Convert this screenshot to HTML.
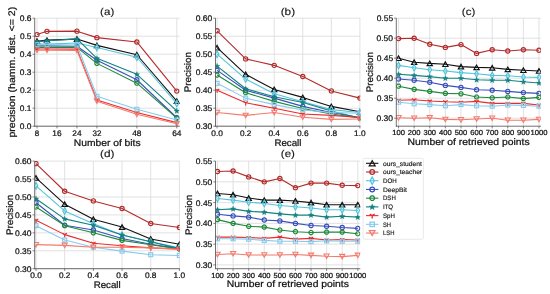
<!DOCTYPE html>
<html><head><meta charset="utf-8"><style>
html,body{margin:0;padding:0;background:#fff;}
svg{display:block;will-change:transform;filter:blur(0.3px);}
text{font-family:"Liberation Sans", sans-serif;text-rendering:geometricPrecision;}
</style></head><body>
<svg width="550" height="294" viewBox="0 0 550 294">
<rect width="550" height="294" fill="#fff"/>
<line x1="37.00" y1="18.20" x2="37.00" y2="126.20" stroke="#d9d9dc" stroke-width="0.8"/>
<line x1="56.97" y1="18.20" x2="56.97" y2="126.20" stroke="#d9d9dc" stroke-width="0.8"/>
<line x1="76.94" y1="18.20" x2="76.94" y2="126.20" stroke="#d9d9dc" stroke-width="0.8"/>
<line x1="96.91" y1="18.20" x2="96.91" y2="126.20" stroke="#d9d9dc" stroke-width="0.8"/>
<line x1="136.86" y1="18.20" x2="136.86" y2="126.20" stroke="#d9d9dc" stroke-width="0.8"/>
<line x1="176.80" y1="18.20" x2="176.80" y2="126.20" stroke="#d9d9dc" stroke-width="0.8"/>
<line x1="34.70" y1="126.20" x2="179.70" y2="126.20" stroke="#d9d9dc" stroke-width="0.8"/>
<line x1="34.70" y1="108.20" x2="179.70" y2="108.20" stroke="#d9d9dc" stroke-width="0.8"/>
<line x1="34.70" y1="90.20" x2="179.70" y2="90.20" stroke="#d9d9dc" stroke-width="0.8"/>
<line x1="34.70" y1="72.20" x2="179.70" y2="72.20" stroke="#d9d9dc" stroke-width="0.8"/>
<line x1="34.70" y1="54.20" x2="179.70" y2="54.20" stroke="#d9d9dc" stroke-width="0.8"/>
<line x1="34.70" y1="36.20" x2="179.70" y2="36.20" stroke="#d9d9dc" stroke-width="0.8"/>
<line x1="34.70" y1="18.20" x2="179.70" y2="18.20" stroke="#d9d9dc" stroke-width="0.8"/>
<clipPath id="c13"><rect x="34.7" y="18.2" width="145.0" height="108.0"/></clipPath>
<g clip-path="url(#c13)">
<polyline points="37.00,41.24 46.99,40.16 76.94,39.08 96.91,45.38 136.86,54.74 176.80,101.18" fill="none" stroke="#111111" stroke-width="1.1" stroke-linejoin="round"/>
<polygon points="37.00,38.89 34.35,43.49 39.65,43.49" fill="none" stroke="#111111" stroke-width="1.15" stroke-linejoin="miter"/>
<polygon points="46.99,37.81 44.34,42.41 49.64,42.41" fill="none" stroke="#111111" stroke-width="1.15" stroke-linejoin="miter"/>
<polygon points="76.94,36.73 74.29,41.33 79.59,41.33" fill="none" stroke="#111111" stroke-width="1.15" stroke-linejoin="miter"/>
<polygon points="96.91,43.03 94.26,47.63 99.56,47.63" fill="none" stroke="#111111" stroke-width="1.15" stroke-linejoin="miter"/>
<polygon points="136.86,52.39 134.21,56.99 139.51,56.99" fill="none" stroke="#111111" stroke-width="1.15" stroke-linejoin="miter"/>
<polygon points="176.80,98.83 174.15,103.43 179.45,103.43" fill="none" stroke="#111111" stroke-width="1.15" stroke-linejoin="miter"/>
<polyline points="37.00,34.58 46.99,31.34 76.94,31.16 96.91,37.64 136.86,41.96 176.80,91.10" fill="none" stroke="#b52a2a" stroke-width="1.1" stroke-linejoin="round"/>
<circle cx="37.00" cy="34.58" r="2.12" fill="none" stroke="#b52a2a" stroke-width="1.15"/>
<circle cx="46.99" cy="31.34" r="2.12" fill="none" stroke="#b52a2a" stroke-width="1.15"/>
<circle cx="76.94" cy="31.16" r="2.12" fill="none" stroke="#b52a2a" stroke-width="1.15"/>
<circle cx="96.91" cy="37.64" r="2.12" fill="none" stroke="#b52a2a" stroke-width="1.15"/>
<circle cx="136.86" cy="41.96" r="2.12" fill="none" stroke="#b52a2a" stroke-width="1.15"/>
<circle cx="176.80" cy="91.10" r="2.12" fill="none" stroke="#b52a2a" stroke-width="1.15"/>
<polyline points="37.00,44.12 46.99,44.12 76.94,43.04 96.91,47.54 136.86,57.26 176.80,103.52" fill="none" stroke="#52c4dd" stroke-width="1.1" stroke-linejoin="round"/>
<polygon points="37.00,40.82 38.85,44.12 37.00,47.42 35.15,44.12" fill="none" stroke="#52c4dd" stroke-width="1.15"/>
<polygon points="46.99,40.82 48.84,44.12 46.99,47.42 45.14,44.12" fill="none" stroke="#52c4dd" stroke-width="1.15"/>
<polygon points="76.94,39.74 78.79,43.04 76.94,46.34 75.09,43.04" fill="none" stroke="#52c4dd" stroke-width="1.15"/>
<polygon points="96.91,44.24 98.76,47.54 96.91,50.84 95.06,47.54" fill="none" stroke="#52c4dd" stroke-width="1.15"/>
<polygon points="136.86,53.96 138.71,57.26 136.86,60.56 135.01,57.26" fill="none" stroke="#52c4dd" stroke-width="1.15"/>
<polygon points="176.80,100.22 178.65,103.52 176.80,106.82 174.95,103.52" fill="none" stroke="#52c4dd" stroke-width="1.15"/>
<polyline points="37.00,45.92 46.99,45.92 76.94,46.28 96.91,60.32 136.86,79.76 176.80,117.74" fill="none" stroke="#3a4fbd" stroke-width="1.1" stroke-linejoin="round"/>
<circle cx="37.00" cy="45.92" r="2.12" fill="none" stroke="#3a4fbd" stroke-width="1.15"/>
<circle cx="46.99" cy="45.92" r="2.12" fill="none" stroke="#3a4fbd" stroke-width="1.15"/>
<circle cx="76.94" cy="46.28" r="2.12" fill="none" stroke="#3a4fbd" stroke-width="1.15"/>
<circle cx="96.91" cy="60.32" r="2.12" fill="none" stroke="#3a4fbd" stroke-width="1.15"/>
<circle cx="136.86" cy="79.76" r="2.12" fill="none" stroke="#3a4fbd" stroke-width="1.15"/>
<circle cx="176.80" cy="117.74" r="2.12" fill="none" stroke="#3a4fbd" stroke-width="1.15"/>
<polyline points="37.00,47.36 46.99,47.36 76.94,47.36 96.91,63.38 136.86,83.18 176.80,118.10" fill="none" stroke="#1f8a3a" stroke-width="1.1" stroke-linejoin="round"/>
<polygon points="39.03,48.20 37.84,49.39 36.16,49.39 34.97,48.20 34.97,46.52 36.16,45.33 37.84,45.33 39.03,46.52" fill="none" stroke="#1f8a3a" stroke-width="1.15"/>
<polygon points="49.02,48.20 47.83,49.39 46.14,49.39 44.95,48.20 44.95,46.52 46.14,45.33 47.83,45.33 49.02,46.52" fill="none" stroke="#1f8a3a" stroke-width="1.15"/>
<polygon points="78.98,48.20 77.78,49.39 76.10,49.39 74.91,48.20 74.91,46.52 76.10,45.33 77.78,45.33 78.98,46.52" fill="none" stroke="#1f8a3a" stroke-width="1.15"/>
<polygon points="98.95,64.22 97.76,65.41 96.07,65.41 94.88,64.22 94.88,62.54 96.07,61.35 97.76,61.35 98.95,62.54" fill="none" stroke="#1f8a3a" stroke-width="1.15"/>
<polygon points="138.89,84.02 137.70,85.21 136.02,85.21 134.82,84.02 134.82,82.34 136.02,81.15 137.70,81.15 138.89,82.34" fill="none" stroke="#1f8a3a" stroke-width="1.15"/>
<polygon points="178.83,118.94 177.64,120.13 175.96,120.13 174.77,118.94 174.77,117.26 175.96,116.07 177.64,116.07 178.83,117.26" fill="none" stroke="#1f8a3a" stroke-width="1.15"/>
<polyline points="37.00,41.96 46.99,40.70 76.94,38.90 96.91,58.34 136.86,74.36 176.80,110.90" fill="none" stroke="#128282" stroke-width="1.1" stroke-linejoin="round"/>
<polygon points="37.00,39.26 37.70,41.14 39.71,41.23 38.14,42.48 38.68,44.42 37.00,43.31 35.32,44.42 35.86,42.48 34.29,41.23 36.30,41.14" fill="#128282" stroke="#128282" stroke-width="0.4" stroke-linejoin="round"/>
<polygon points="46.99,38.00 47.69,39.88 49.70,39.97 48.12,41.22 48.66,43.16 46.99,42.05 45.31,43.16 45.85,41.22 44.28,39.97 46.28,39.88" fill="#128282" stroke="#128282" stroke-width="0.4" stroke-linejoin="round"/>
<polygon points="76.94,36.20 77.65,38.08 79.65,38.17 78.08,39.42 78.62,41.36 76.94,40.25 75.27,41.36 75.80,39.42 74.23,38.17 76.24,38.08" fill="#128282" stroke="#128282" stroke-width="0.4" stroke-linejoin="round"/>
<polygon points="96.91,55.64 97.62,57.52 99.62,57.61 98.05,58.86 98.59,60.80 96.91,59.69 95.24,60.80 95.78,58.86 94.20,57.61 96.21,57.52" fill="#128282" stroke="#128282" stroke-width="0.4" stroke-linejoin="round"/>
<polygon points="136.86,71.66 137.56,73.54 139.57,73.63 138.00,74.88 138.53,76.82 136.86,75.71 135.18,76.82 135.72,74.88 134.15,73.63 136.15,73.54" fill="#128282" stroke="#128282" stroke-width="0.4" stroke-linejoin="round"/>
<polygon points="176.80,108.20 177.50,110.08 179.51,110.17 177.94,111.42 178.48,113.36 176.80,112.25 175.12,113.36 175.66,111.42 174.09,110.17 176.10,110.08" fill="#128282" stroke="#128282" stroke-width="0.4" stroke-linejoin="round"/>
<polyline points="37.00,48.98 46.99,48.98 76.94,49.16 96.91,99.92 136.86,112.52 176.80,122.60" fill="none" stroke="#ec2a2a" stroke-width="1.1" stroke-linejoin="round"/>
<path d="M37.00,48.98L37.00,51.58M37.00,48.98L34.75,47.68M37.00,48.98L39.25,47.68" fill="none" stroke="#ec2a2a" stroke-width="1.2"/>
<path d="M46.99,48.98L46.99,51.58M46.99,48.98L44.73,47.68M46.99,48.98L49.24,47.68" fill="none" stroke="#ec2a2a" stroke-width="1.2"/>
<path d="M76.94,49.16L76.94,51.76M76.94,49.16L74.69,47.86M76.94,49.16L79.19,47.86" fill="none" stroke="#ec2a2a" stroke-width="1.2"/>
<path d="M96.91,99.92L96.91,102.52M96.91,99.92L94.66,98.62M96.91,99.92L99.17,98.62" fill="none" stroke="#ec2a2a" stroke-width="1.2"/>
<path d="M136.86,112.52L136.86,115.12M136.86,112.52L134.61,111.22M136.86,112.52L139.11,111.22" fill="none" stroke="#ec2a2a" stroke-width="1.2"/>
<path d="M176.80,122.60L176.80,125.20M176.80,122.60L174.55,121.30M176.80,122.60L179.05,121.30" fill="none" stroke="#ec2a2a" stroke-width="1.2"/>
<polyline points="37.00,44.66 46.99,44.66 76.94,45.02 96.91,96.32 136.86,109.28 176.80,120.08" fill="none" stroke="#86cbec" stroke-width="1.1" stroke-linejoin="round"/>
<rect x="35.00" y="42.66" width="4.00" height="4.00" fill="none" stroke="#86cbec" stroke-width="1.15"/>
<rect x="44.99" y="42.66" width="4.00" height="4.00" fill="none" stroke="#86cbec" stroke-width="1.15"/>
<rect x="74.94" y="43.02" width="4.00" height="4.00" fill="none" stroke="#86cbec" stroke-width="1.15"/>
<rect x="94.91" y="94.32" width="4.00" height="4.00" fill="none" stroke="#86cbec" stroke-width="1.15"/>
<rect x="134.86" y="107.28" width="4.00" height="4.00" fill="none" stroke="#86cbec" stroke-width="1.15"/>
<rect x="174.80" y="118.08" width="4.00" height="4.00" fill="none" stroke="#86cbec" stroke-width="1.15"/>
<polyline points="37.00,50.24 46.99,50.24 76.94,50.42 96.91,101.18 136.86,114.32 176.80,123.68" fill="none" stroke="#f47a6c" stroke-width="1.1" stroke-linejoin="round"/>
<polygon points="37.00,52.59 34.40,47.99 39.60,47.99" fill="none" stroke="#f47a6c" stroke-width="1.05" stroke-linejoin="miter"/>
<polygon points="46.99,52.59 44.39,47.99 49.59,47.99" fill="none" stroke="#f47a6c" stroke-width="1.05" stroke-linejoin="miter"/>
<polygon points="76.94,52.77 74.34,48.17 79.54,48.17" fill="none" stroke="#f47a6c" stroke-width="1.05" stroke-linejoin="miter"/>
<polygon points="96.91,103.53 94.31,98.93 99.51,98.93" fill="none" stroke="#f47a6c" stroke-width="1.05" stroke-linejoin="miter"/>
<polygon points="136.86,116.67 134.26,112.07 139.46,112.07" fill="none" stroke="#f47a6c" stroke-width="1.05" stroke-linejoin="miter"/>
<polygon points="176.80,126.03 174.20,121.43 179.40,121.43" fill="none" stroke="#f47a6c" stroke-width="1.05" stroke-linejoin="miter"/>
</g>
<line x1="34.70" y1="18.20" x2="34.70" y2="126.60" stroke="#4d4d4d" stroke-width="0.8"/>
<line x1="34.30" y1="126.20" x2="179.70" y2="126.20" stroke="#4d4d4d" stroke-width="0.8"/>
<line x1="37.00" y1="126.20" x2="37.00" y2="128.40" stroke="#4d4d4d" stroke-width="0.7"/>
<text x="37.00" y="135.85" font-size="8.06" text-anchor="middle" textLength="4.44" lengthAdjust="spacingAndGlyphs" fill="#141414" stroke="#141414" stroke-width="0.24">8</text>
<line x1="56.97" y1="126.20" x2="56.97" y2="128.40" stroke="#4d4d4d" stroke-width="0.7"/>
<text x="56.97" y="135.85" font-size="8.06" text-anchor="middle" textLength="9.25" lengthAdjust="spacingAndGlyphs" fill="#141414" stroke="#141414" stroke-width="0.24">16</text>
<line x1="76.94" y1="126.20" x2="76.94" y2="128.40" stroke="#4d4d4d" stroke-width="0.7"/>
<text x="76.94" y="135.85" font-size="8.06" text-anchor="middle" textLength="9.23" lengthAdjust="spacingAndGlyphs" fill="#141414" stroke="#141414" stroke-width="0.24">24</text>
<line x1="96.91" y1="126.20" x2="96.91" y2="128.40" stroke="#4d4d4d" stroke-width="0.7"/>
<text x="96.91" y="135.85" font-size="8.06" text-anchor="middle" textLength="8.93" lengthAdjust="spacingAndGlyphs" fill="#141414" stroke="#141414" stroke-width="0.24">32</text>
<line x1="136.86" y1="126.20" x2="136.86" y2="128.40" stroke="#4d4d4d" stroke-width="0.7"/>
<text x="136.86" y="135.85" font-size="8.06" text-anchor="middle" textLength="9.21" lengthAdjust="spacingAndGlyphs" fill="#141414" stroke="#141414" stroke-width="0.24">48</text>
<line x1="176.80" y1="126.20" x2="176.80" y2="128.40" stroke="#4d4d4d" stroke-width="0.7"/>
<text x="176.80" y="135.85" font-size="8.06" text-anchor="middle" textLength="9.27" lengthAdjust="spacingAndGlyphs" fill="#141414" stroke="#141414" stroke-width="0.24">64</text>
<line x1="32.50" y1="126.20" x2="34.70" y2="126.20" stroke="#4d4d4d" stroke-width="0.7"/>
<text x="31.50" y="129.30" font-size="8.17" text-anchor="end" textLength="11.74" lengthAdjust="spacingAndGlyphs" fill="#141414" stroke="#141414" stroke-width="0.24">0.0</text>
<line x1="32.50" y1="108.20" x2="34.70" y2="108.20" stroke="#4d4d4d" stroke-width="0.7"/>
<text x="31.50" y="111.30" font-size="8.17" text-anchor="end" textLength="11.62" lengthAdjust="spacingAndGlyphs" fill="#141414" stroke="#141414" stroke-width="0.24">0.1</text>
<line x1="32.50" y1="90.20" x2="34.70" y2="90.20" stroke="#4d4d4d" stroke-width="0.7"/>
<text x="31.50" y="93.30" font-size="8.17" text-anchor="end" textLength="11.57" lengthAdjust="spacingAndGlyphs" fill="#141414" stroke="#141414" stroke-width="0.24">0.2</text>
<line x1="32.50" y1="72.20" x2="34.70" y2="72.20" stroke="#4d4d4d" stroke-width="0.7"/>
<text x="31.50" y="75.30" font-size="8.17" text-anchor="end" textLength="11.67" lengthAdjust="spacingAndGlyphs" fill="#141414" stroke="#141414" stroke-width="0.24">0.3</text>
<line x1="32.50" y1="54.20" x2="34.70" y2="54.20" stroke="#4d4d4d" stroke-width="0.7"/>
<text x="31.50" y="57.30" font-size="8.17" text-anchor="end" textLength="11.74" lengthAdjust="spacingAndGlyphs" fill="#141414" stroke="#141414" stroke-width="0.24">0.4</text>
<line x1="32.50" y1="36.20" x2="34.70" y2="36.20" stroke="#4d4d4d" stroke-width="0.7"/>
<text x="31.50" y="39.30" font-size="8.17" text-anchor="end" textLength="11.60" lengthAdjust="spacingAndGlyphs" fill="#141414" stroke="#141414" stroke-width="0.24">0.5</text>
<line x1="32.50" y1="18.20" x2="34.70" y2="18.20" stroke="#4d4d4d" stroke-width="0.7"/>
<text x="31.50" y="21.30" font-size="8.17" text-anchor="end" textLength="11.81" lengthAdjust="spacingAndGlyphs" fill="#141414" stroke="#141414" stroke-width="0.24">0.6</text>
<text x="107.20" y="14.50" font-size="9.98" text-anchor="middle" textLength="14.13" lengthAdjust="spacingAndGlyphs" fill="#141414" stroke="#141414" stroke-width="0.12">(a)</text>
<text x="107.20" y="145.50" font-size="9.54" text-anchor="middle" textLength="66.87" lengthAdjust="spacingAndGlyphs" fill="#141414" stroke="#141414" stroke-width="0.24">Number of bits</text>
<text x="15.40" y="72.20" font-size="9.54" text-anchor="middle" textLength="130.72" lengthAdjust="spacingAndGlyphs" transform="rotate(-90 15.40 72.20)" fill="#141414" stroke="#141414" stroke-width="0.24">precision (hamm. dist. &lt;= 2)</text>
<line x1="217.10" y1="18.20" x2="217.10" y2="126.20" stroke="#d9d9dc" stroke-width="0.8"/>
<line x1="245.66" y1="18.20" x2="245.66" y2="126.20" stroke="#d9d9dc" stroke-width="0.8"/>
<line x1="274.22" y1="18.20" x2="274.22" y2="126.20" stroke="#d9d9dc" stroke-width="0.8"/>
<line x1="302.78" y1="18.20" x2="302.78" y2="126.20" stroke="#d9d9dc" stroke-width="0.8"/>
<line x1="331.34" y1="18.20" x2="331.34" y2="126.20" stroke="#d9d9dc" stroke-width="0.8"/>
<line x1="359.90" y1="18.20" x2="359.90" y2="126.20" stroke="#d9d9dc" stroke-width="0.8"/>
<line x1="215.50" y1="126.20" x2="360.30" y2="126.20" stroke="#d9d9dc" stroke-width="0.8"/>
<line x1="215.50" y1="108.20" x2="360.30" y2="108.20" stroke="#d9d9dc" stroke-width="0.8"/>
<line x1="215.50" y1="90.20" x2="360.30" y2="90.20" stroke="#d9d9dc" stroke-width="0.8"/>
<line x1="215.50" y1="72.20" x2="360.30" y2="72.20" stroke="#d9d9dc" stroke-width="0.8"/>
<line x1="215.50" y1="54.20" x2="360.30" y2="54.20" stroke="#d9d9dc" stroke-width="0.8"/>
<line x1="215.50" y1="36.20" x2="360.30" y2="36.20" stroke="#d9d9dc" stroke-width="0.8"/>
<line x1="215.50" y1="18.20" x2="360.30" y2="18.20" stroke="#d9d9dc" stroke-width="0.8"/>
<clipPath id="c123"><rect x="215.5" y="18.2" width="144.8" height="108.0"/></clipPath>
<g clip-path="url(#c123)">
<polyline points="217.10,47.72 245.66,74.36 274.22,89.48 302.78,97.40 331.34,106.40 359.90,111.80" fill="none" stroke="#111111" stroke-width="1.1" stroke-linejoin="round"/>
<polygon points="217.10,45.37 214.45,49.97 219.75,49.97" fill="none" stroke="#111111" stroke-width="1.15" stroke-linejoin="miter"/>
<polygon points="245.66,72.01 243.01,76.61 248.31,76.61" fill="none" stroke="#111111" stroke-width="1.15" stroke-linejoin="miter"/>
<polygon points="274.22,87.13 271.57,91.73 276.87,91.73" fill="none" stroke="#111111" stroke-width="1.15" stroke-linejoin="miter"/>
<polygon points="302.78,95.05 300.13,99.65 305.43,99.65" fill="none" stroke="#111111" stroke-width="1.15" stroke-linejoin="miter"/>
<polygon points="331.34,104.05 328.69,108.65 333.99,108.65" fill="none" stroke="#111111" stroke-width="1.15" stroke-linejoin="miter"/>
<polygon points="359.90,109.45 357.25,114.05 362.55,114.05" fill="none" stroke="#111111" stroke-width="1.15" stroke-linejoin="miter"/>
<polyline points="217.10,30.80 245.66,58.88 274.22,65.36 302.78,76.52 331.34,90.92 359.90,98.12" fill="none" stroke="#b52a2a" stroke-width="1.1" stroke-linejoin="round"/>
<circle cx="217.10" cy="30.80" r="2.12" fill="none" stroke="#b52a2a" stroke-width="1.15"/>
<circle cx="245.66" cy="58.88" r="2.12" fill="none" stroke="#b52a2a" stroke-width="1.15"/>
<circle cx="274.22" cy="65.36" r="2.12" fill="none" stroke="#b52a2a" stroke-width="1.15"/>
<circle cx="302.78" cy="76.52" r="2.12" fill="none" stroke="#b52a2a" stroke-width="1.15"/>
<circle cx="331.34" cy="90.92" r="2.12" fill="none" stroke="#b52a2a" stroke-width="1.15"/>
<circle cx="359.90" cy="98.12" r="2.12" fill="none" stroke="#b52a2a" stroke-width="1.15"/>
<polyline points="217.10,54.20 245.66,79.04 274.22,93.80 302.78,101.72 331.34,109.64 359.90,112.52" fill="none" stroke="#52c4dd" stroke-width="1.1" stroke-linejoin="round"/>
<polygon points="217.10,50.90 218.95,54.20 217.10,57.50 215.25,54.20" fill="none" stroke="#52c4dd" stroke-width="1.15"/>
<polygon points="245.66,75.74 247.51,79.04 245.66,82.34 243.81,79.04" fill="none" stroke="#52c4dd" stroke-width="1.15"/>
<polygon points="274.22,90.50 276.07,93.80 274.22,97.10 272.37,93.80" fill="none" stroke="#52c4dd" stroke-width="1.15"/>
<polygon points="302.78,98.42 304.63,101.72 302.78,105.02 300.93,101.72" fill="none" stroke="#52c4dd" stroke-width="1.15"/>
<polygon points="331.34,106.34 333.19,109.64 331.34,112.94 329.49,109.64" fill="none" stroke="#52c4dd" stroke-width="1.15"/>
<polygon points="359.90,109.22 361.75,112.52 359.90,115.82 358.05,112.52" fill="none" stroke="#52c4dd" stroke-width="1.15"/>
<polyline points="217.10,70.40 245.66,90.20 274.22,98.12 302.78,106.40 331.34,112.52 359.90,117.56" fill="none" stroke="#3a4fbd" stroke-width="1.1" stroke-linejoin="round"/>
<circle cx="217.10" cy="70.40" r="2.12" fill="none" stroke="#3a4fbd" stroke-width="1.15"/>
<circle cx="245.66" cy="90.20" r="2.12" fill="none" stroke="#3a4fbd" stroke-width="1.15"/>
<circle cx="274.22" cy="98.12" r="2.12" fill="none" stroke="#3a4fbd" stroke-width="1.15"/>
<circle cx="302.78" cy="106.40" r="2.12" fill="none" stroke="#3a4fbd" stroke-width="1.15"/>
<circle cx="331.34" cy="112.52" r="2.12" fill="none" stroke="#3a4fbd" stroke-width="1.15"/>
<circle cx="359.90" cy="117.56" r="2.12" fill="none" stroke="#3a4fbd" stroke-width="1.15"/>
<polyline points="217.10,75.08 245.66,92.72 274.22,101.36 302.78,108.56 331.34,113.96 359.90,117.92" fill="none" stroke="#1f8a3a" stroke-width="1.1" stroke-linejoin="round"/>
<polygon points="219.13,75.92 217.94,77.11 216.26,77.11 215.07,75.92 215.07,74.24 216.26,73.05 217.94,73.05 219.13,74.24" fill="none" stroke="#1f8a3a" stroke-width="1.15"/>
<polygon points="247.69,93.56 246.50,94.75 244.82,94.75 243.63,93.56 243.63,91.88 244.82,90.69 246.50,90.69 247.69,91.88" fill="none" stroke="#1f8a3a" stroke-width="1.15"/>
<polygon points="276.25,102.20 275.06,103.39 273.38,103.39 272.19,102.20 272.19,100.52 273.38,99.33 275.06,99.33 276.25,100.52" fill="none" stroke="#1f8a3a" stroke-width="1.15"/>
<polygon points="304.81,109.40 303.62,110.59 301.94,110.59 300.75,109.40 300.75,107.72 301.94,106.53 303.62,106.53 304.81,107.72" fill="none" stroke="#1f8a3a" stroke-width="1.15"/>
<polygon points="333.37,114.80 332.18,115.99 330.50,115.99 329.31,114.80 329.31,113.12 330.50,111.93 332.18,111.93 333.37,113.12" fill="none" stroke="#1f8a3a" stroke-width="1.15"/>
<polygon points="361.93,118.76 360.74,119.95 359.06,119.95 357.87,118.76 357.87,117.08 359.06,115.89 360.74,115.89 361.93,117.08" fill="none" stroke="#1f8a3a" stroke-width="1.15"/>
<polyline points="217.10,66.08 245.66,88.76 274.22,96.68 302.78,102.44 331.34,111.08 359.90,118.28" fill="none" stroke="#128282" stroke-width="1.1" stroke-linejoin="round"/>
<polygon points="217.10,63.38 217.80,65.26 219.81,65.35 218.24,66.60 218.78,68.54 217.10,67.43 215.42,68.54 215.96,66.60 214.39,65.35 216.40,65.26" fill="#128282" stroke="#128282" stroke-width="0.4" stroke-linejoin="round"/>
<polygon points="245.66,86.06 246.36,87.94 248.37,88.03 246.80,89.28 247.34,91.22 245.66,90.11 243.98,91.22 244.52,89.28 242.95,88.03 244.96,87.94" fill="#128282" stroke="#128282" stroke-width="0.4" stroke-linejoin="round"/>
<polygon points="274.22,93.98 274.92,95.86 276.93,95.95 275.36,97.20 275.90,99.14 274.22,98.03 272.54,99.14 273.08,97.20 271.51,95.95 273.52,95.86" fill="#128282" stroke="#128282" stroke-width="0.4" stroke-linejoin="round"/>
<polygon points="302.78,99.74 303.48,101.62 305.49,101.71 303.92,102.96 304.46,104.90 302.78,103.79 301.10,104.90 301.64,102.96 300.07,101.71 302.08,101.62" fill="#128282" stroke="#128282" stroke-width="0.4" stroke-linejoin="round"/>
<polygon points="331.34,108.38 332.04,110.26 334.05,110.35 332.48,111.60 333.02,113.54 331.34,112.43 329.66,113.54 330.20,111.60 328.63,110.35 330.64,110.26" fill="#128282" stroke="#128282" stroke-width="0.4" stroke-linejoin="round"/>
<polygon points="359.90,115.58 360.60,117.46 362.61,117.55 361.04,118.80 361.58,120.74 359.90,119.63 358.22,120.74 358.76,118.80 357.19,117.55 359.20,117.46" fill="#128282" stroke="#128282" stroke-width="0.4" stroke-linejoin="round"/>
<polyline points="217.10,90.20 245.66,102.80 274.22,108.20 302.78,113.96 331.34,115.40 359.90,117.56" fill="none" stroke="#ec2a2a" stroke-width="1.1" stroke-linejoin="round"/>
<path d="M217.10,90.20L217.10,92.80M217.10,90.20L214.85,88.90M217.10,90.20L219.35,88.90" fill="none" stroke="#ec2a2a" stroke-width="1.2"/>
<path d="M245.66,102.80L245.66,105.40M245.66,102.80L243.41,101.50M245.66,102.80L247.91,101.50" fill="none" stroke="#ec2a2a" stroke-width="1.2"/>
<path d="M274.22,108.20L274.22,110.80M274.22,108.20L271.97,106.90M274.22,108.20L276.47,106.90" fill="none" stroke="#ec2a2a" stroke-width="1.2"/>
<path d="M302.78,113.96L302.78,116.56M302.78,113.96L300.53,112.66M302.78,113.96L305.03,112.66" fill="none" stroke="#ec2a2a" stroke-width="1.2"/>
<path d="M331.34,115.40L331.34,118.00M331.34,115.40L329.09,114.10M331.34,115.40L333.59,114.10" fill="none" stroke="#ec2a2a" stroke-width="1.2"/>
<path d="M359.90,117.56L359.90,120.16M359.90,117.56L357.65,116.26M359.90,117.56L362.15,116.26" fill="none" stroke="#ec2a2a" stroke-width="1.2"/>
<polyline points="217.10,83.36 245.66,98.12 274.22,104.60 302.78,110.00 331.34,112.52 359.90,113.24" fill="none" stroke="#86cbec" stroke-width="1.1" stroke-linejoin="round"/>
<rect x="215.10" y="81.36" width="4.00" height="4.00" fill="none" stroke="#86cbec" stroke-width="1.15"/>
<rect x="243.66" y="96.12" width="4.00" height="4.00" fill="none" stroke="#86cbec" stroke-width="1.15"/>
<rect x="272.22" y="102.60" width="4.00" height="4.00" fill="none" stroke="#86cbec" stroke-width="1.15"/>
<rect x="300.78" y="108.00" width="4.00" height="4.00" fill="none" stroke="#86cbec" stroke-width="1.15"/>
<rect x="329.34" y="110.52" width="4.00" height="4.00" fill="none" stroke="#86cbec" stroke-width="1.15"/>
<rect x="357.90" y="111.24" width="4.00" height="4.00" fill="none" stroke="#86cbec" stroke-width="1.15"/>
<polyline points="217.10,112.52 245.66,115.40 274.22,112.52 302.78,117.20 331.34,119.36 359.90,119.00" fill="none" stroke="#f47a6c" stroke-width="1.1" stroke-linejoin="round"/>
<polygon points="217.10,114.87 214.50,110.27 219.70,110.27" fill="none" stroke="#f47a6c" stroke-width="1.05" stroke-linejoin="miter"/>
<polygon points="245.66,117.75 243.06,113.15 248.26,113.15" fill="none" stroke="#f47a6c" stroke-width="1.05" stroke-linejoin="miter"/>
<polygon points="274.22,114.87 271.62,110.27 276.82,110.27" fill="none" stroke="#f47a6c" stroke-width="1.05" stroke-linejoin="miter"/>
<polygon points="302.78,119.55 300.18,114.95 305.38,114.95" fill="none" stroke="#f47a6c" stroke-width="1.05" stroke-linejoin="miter"/>
<polygon points="331.34,121.71 328.74,117.11 333.94,117.11" fill="none" stroke="#f47a6c" stroke-width="1.05" stroke-linejoin="miter"/>
<polygon points="359.90,121.35 357.30,116.75 362.50,116.75" fill="none" stroke="#f47a6c" stroke-width="1.05" stroke-linejoin="miter"/>
</g>
<line x1="215.50" y1="18.20" x2="215.50" y2="126.60" stroke="#4d4d4d" stroke-width="0.8"/>
<line x1="215.10" y1="126.20" x2="360.30" y2="126.20" stroke="#4d4d4d" stroke-width="0.8"/>
<line x1="217.10" y1="126.20" x2="217.10" y2="128.40" stroke="#4d4d4d" stroke-width="0.7"/>
<text x="217.10" y="135.85" font-size="8.06" text-anchor="middle" textLength="11.59" lengthAdjust="spacingAndGlyphs" fill="#141414" stroke="#141414" stroke-width="0.24">0.0</text>
<line x1="245.66" y1="126.20" x2="245.66" y2="128.40" stroke="#4d4d4d" stroke-width="0.7"/>
<text x="245.66" y="135.85" font-size="8.06" text-anchor="middle" textLength="11.42" lengthAdjust="spacingAndGlyphs" fill="#141414" stroke="#141414" stroke-width="0.24">0.2</text>
<line x1="274.22" y1="126.20" x2="274.22" y2="128.40" stroke="#4d4d4d" stroke-width="0.7"/>
<text x="274.22" y="135.85" font-size="8.06" text-anchor="middle" textLength="11.58" lengthAdjust="spacingAndGlyphs" fill="#141414" stroke="#141414" stroke-width="0.24">0.4</text>
<line x1="302.78" y1="126.20" x2="302.78" y2="128.40" stroke="#4d4d4d" stroke-width="0.7"/>
<text x="302.78" y="135.85" font-size="8.06" text-anchor="middle" textLength="11.66" lengthAdjust="spacingAndGlyphs" fill="#141414" stroke="#141414" stroke-width="0.24">0.6</text>
<line x1="331.34" y1="126.20" x2="331.34" y2="128.40" stroke="#4d4d4d" stroke-width="0.7"/>
<text x="331.34" y="135.85" font-size="8.06" text-anchor="middle" textLength="11.61" lengthAdjust="spacingAndGlyphs" fill="#141414" stroke="#141414" stroke-width="0.24">0.8</text>
<line x1="359.90" y1="126.20" x2="359.90" y2="128.40" stroke="#4d4d4d" stroke-width="0.7"/>
<text x="359.90" y="135.85" font-size="8.06" text-anchor="middle" textLength="11.56" lengthAdjust="spacingAndGlyphs" fill="#141414" stroke="#141414" stroke-width="0.24">1.0</text>
<line x1="213.30" y1="126.20" x2="215.50" y2="126.20" stroke="#4d4d4d" stroke-width="0.7"/>
<text x="212.30" y="129.30" font-size="8.17" text-anchor="end" textLength="16.58" lengthAdjust="spacingAndGlyphs" fill="#141414" stroke="#141414" stroke-width="0.24">0.30</text>
<line x1="213.30" y1="108.20" x2="215.50" y2="108.20" stroke="#4d4d4d" stroke-width="0.7"/>
<text x="212.30" y="111.30" font-size="8.17" text-anchor="end" textLength="16.44" lengthAdjust="spacingAndGlyphs" fill="#141414" stroke="#141414" stroke-width="0.24">0.35</text>
<line x1="213.30" y1="90.20" x2="215.50" y2="90.20" stroke="#4d4d4d" stroke-width="0.7"/>
<text x="212.30" y="93.30" font-size="8.17" text-anchor="end" textLength="16.58" lengthAdjust="spacingAndGlyphs" fill="#141414" stroke="#141414" stroke-width="0.24">0.40</text>
<line x1="213.30" y1="72.20" x2="215.50" y2="72.20" stroke="#4d4d4d" stroke-width="0.7"/>
<text x="212.30" y="75.30" font-size="8.17" text-anchor="end" textLength="16.44" lengthAdjust="spacingAndGlyphs" fill="#141414" stroke="#141414" stroke-width="0.24">0.45</text>
<line x1="213.30" y1="54.20" x2="215.50" y2="54.20" stroke="#4d4d4d" stroke-width="0.7"/>
<text x="212.30" y="57.30" font-size="8.17" text-anchor="end" textLength="16.58" lengthAdjust="spacingAndGlyphs" fill="#141414" stroke="#141414" stroke-width="0.24">0.50</text>
<line x1="213.30" y1="36.20" x2="215.50" y2="36.20" stroke="#4d4d4d" stroke-width="0.7"/>
<text x="212.30" y="39.30" font-size="8.17" text-anchor="end" textLength="16.44" lengthAdjust="spacingAndGlyphs" fill="#141414" stroke="#141414" stroke-width="0.24">0.55</text>
<line x1="213.30" y1="18.20" x2="215.50" y2="18.20" stroke="#4d4d4d" stroke-width="0.7"/>
<text x="212.30" y="21.30" font-size="8.17" text-anchor="end" textLength="16.58" lengthAdjust="spacingAndGlyphs" fill="#141414" stroke="#141414" stroke-width="0.24">0.60</text>
<text x="287.90" y="14.50" font-size="9.98" text-anchor="middle" textLength="14.39" lengthAdjust="spacingAndGlyphs" fill="#141414" stroke="#141414" stroke-width="0.12">(b)</text>
<text x="287.90" y="145.50" font-size="9.54" text-anchor="middle" textLength="26.97" lengthAdjust="spacingAndGlyphs" fill="#141414" stroke="#141414" stroke-width="0.24">Recall</text>
<text x="191.40" y="72.20" font-size="9.54" text-anchor="middle" textLength="40.31" lengthAdjust="spacingAndGlyphs" transform="rotate(-90 191.40 72.20)" fill="#141414" stroke="#141414" stroke-width="0.24">Precision</text>
<line x1="398.55" y1="18.20" x2="398.55" y2="126.20" stroke="#d9d9dc" stroke-width="0.8"/>
<line x1="414.16" y1="18.20" x2="414.16" y2="126.20" stroke="#d9d9dc" stroke-width="0.8"/>
<line x1="429.76" y1="18.20" x2="429.76" y2="126.20" stroke="#d9d9dc" stroke-width="0.8"/>
<line x1="445.37" y1="18.20" x2="445.37" y2="126.20" stroke="#d9d9dc" stroke-width="0.8"/>
<line x1="460.97" y1="18.20" x2="460.97" y2="126.20" stroke="#d9d9dc" stroke-width="0.8"/>
<line x1="476.58" y1="18.20" x2="476.58" y2="126.20" stroke="#d9d9dc" stroke-width="0.8"/>
<line x1="492.18" y1="18.20" x2="492.18" y2="126.20" stroke="#d9d9dc" stroke-width="0.8"/>
<line x1="507.79" y1="18.20" x2="507.79" y2="126.20" stroke="#d9d9dc" stroke-width="0.8"/>
<line x1="523.39" y1="18.20" x2="523.39" y2="126.20" stroke="#d9d9dc" stroke-width="0.8"/>
<line x1="539.00" y1="18.20" x2="539.00" y2="126.20" stroke="#d9d9dc" stroke-width="0.8"/>
<line x1="396.30" y1="118.20" x2="540.90" y2="118.20" stroke="#d9d9dc" stroke-width="0.8"/>
<line x1="396.30" y1="98.20" x2="540.90" y2="98.20" stroke="#d9d9dc" stroke-width="0.8"/>
<line x1="396.30" y1="78.20" x2="540.90" y2="78.20" stroke="#d9d9dc" stroke-width="0.8"/>
<line x1="396.30" y1="58.20" x2="540.90" y2="58.20" stroke="#d9d9dc" stroke-width="0.8"/>
<line x1="396.30" y1="38.20" x2="540.90" y2="38.20" stroke="#d9d9dc" stroke-width="0.8"/>
<line x1="396.30" y1="18.20" x2="540.90" y2="18.20" stroke="#d9d9dc" stroke-width="0.8"/>
<clipPath id="c236"><rect x="396.3" y="18.2" width="144.59999999999997" height="108.0"/></clipPath>
<g clip-path="url(#c236)">
<polyline points="398.55,58.20 414.16,62.20 429.76,63.40 445.37,64.20 460.97,66.60 476.58,67.40 492.18,67.80 507.79,69.40 523.39,70.20 539.00,71.00" fill="none" stroke="#111111" stroke-width="1.1" stroke-linejoin="round"/>
<polygon points="398.55,55.85 395.90,60.45 401.20,60.45" fill="none" stroke="#111111" stroke-width="1.15" stroke-linejoin="miter"/>
<polygon points="414.16,59.85 411.51,64.45 416.81,64.45" fill="none" stroke="#111111" stroke-width="1.15" stroke-linejoin="miter"/>
<polygon points="429.76,61.05 427.11,65.65 432.41,65.65" fill="none" stroke="#111111" stroke-width="1.15" stroke-linejoin="miter"/>
<polygon points="445.37,61.85 442.72,66.45 448.02,66.45" fill="none" stroke="#111111" stroke-width="1.15" stroke-linejoin="miter"/>
<polygon points="460.97,64.25 458.32,68.85 463.62,68.85" fill="none" stroke="#111111" stroke-width="1.15" stroke-linejoin="miter"/>
<polygon points="476.58,65.05 473.93,69.65 479.23,69.65" fill="none" stroke="#111111" stroke-width="1.15" stroke-linejoin="miter"/>
<polygon points="492.18,65.45 489.53,70.05 494.83,70.05" fill="none" stroke="#111111" stroke-width="1.15" stroke-linejoin="miter"/>
<polygon points="507.79,67.05 505.14,71.65 510.44,71.65" fill="none" stroke="#111111" stroke-width="1.15" stroke-linejoin="miter"/>
<polygon points="523.39,67.85 520.74,72.45 526.04,72.45" fill="none" stroke="#111111" stroke-width="1.15" stroke-linejoin="miter"/>
<polygon points="539.00,68.65 536.35,73.25 541.65,73.25" fill="none" stroke="#111111" stroke-width="1.15" stroke-linejoin="miter"/>
<polyline points="398.55,38.60 414.16,38.20 429.76,44.20 445.37,47.40 460.97,44.60 476.58,53.40 492.18,49.80 507.79,51.00 523.39,49.80 539.00,50.20" fill="none" stroke="#b52a2a" stroke-width="1.1" stroke-linejoin="round"/>
<circle cx="398.55" cy="38.60" r="2.12" fill="none" stroke="#b52a2a" stroke-width="1.15"/>
<circle cx="414.16" cy="38.20" r="2.12" fill="none" stroke="#b52a2a" stroke-width="1.15"/>
<circle cx="429.76" cy="44.20" r="2.12" fill="none" stroke="#b52a2a" stroke-width="1.15"/>
<circle cx="445.37" cy="47.40" r="2.12" fill="none" stroke="#b52a2a" stroke-width="1.15"/>
<circle cx="460.97" cy="44.60" r="2.12" fill="none" stroke="#b52a2a" stroke-width="1.15"/>
<circle cx="476.58" cy="53.40" r="2.12" fill="none" stroke="#b52a2a" stroke-width="1.15"/>
<circle cx="492.18" cy="49.80" r="2.12" fill="none" stroke="#b52a2a" stroke-width="1.15"/>
<circle cx="507.79" cy="51.00" r="2.12" fill="none" stroke="#b52a2a" stroke-width="1.15"/>
<circle cx="523.39" cy="49.80" r="2.12" fill="none" stroke="#b52a2a" stroke-width="1.15"/>
<circle cx="539.00" cy="50.20" r="2.12" fill="none" stroke="#b52a2a" stroke-width="1.15"/>
<polyline points="398.55,65.40 414.16,67.80 429.76,69.80 445.37,71.00 460.97,72.60 476.58,73.80 492.18,75.40 507.79,75.80 523.39,77.00 539.00,77.40" fill="none" stroke="#52c4dd" stroke-width="1.1" stroke-linejoin="round"/>
<polygon points="398.55,62.10 400.40,65.40 398.55,68.70 396.70,65.40" fill="none" stroke="#52c4dd" stroke-width="1.15"/>
<polygon points="414.16,64.50 416.01,67.80 414.16,71.10 412.31,67.80" fill="none" stroke="#52c4dd" stroke-width="1.15"/>
<polygon points="429.76,66.50 431.61,69.80 429.76,73.10 427.91,69.80" fill="none" stroke="#52c4dd" stroke-width="1.15"/>
<polygon points="445.37,67.70 447.22,71.00 445.37,74.30 443.52,71.00" fill="none" stroke="#52c4dd" stroke-width="1.15"/>
<polygon points="460.97,69.30 462.82,72.60 460.97,75.90 459.12,72.60" fill="none" stroke="#52c4dd" stroke-width="1.15"/>
<polygon points="476.58,70.50 478.43,73.80 476.58,77.10 474.73,73.80" fill="none" stroke="#52c4dd" stroke-width="1.15"/>
<polygon points="492.18,72.10 494.03,75.40 492.18,78.70 490.33,75.40" fill="none" stroke="#52c4dd" stroke-width="1.15"/>
<polygon points="507.79,72.50 509.64,75.80 507.79,79.10 505.94,75.80" fill="none" stroke="#52c4dd" stroke-width="1.15"/>
<polygon points="523.39,73.70 525.24,77.00 523.39,80.30 521.54,77.00" fill="none" stroke="#52c4dd" stroke-width="1.15"/>
<polygon points="539.00,74.10 540.85,77.40 539.00,80.70 537.15,77.40" fill="none" stroke="#52c4dd" stroke-width="1.15"/>
<polyline points="398.55,79.00 414.16,80.20 429.76,82.20 445.37,85.40 460.97,87.40 476.58,89.80 492.18,90.20 507.79,91.40 523.39,92.60 539.00,93.40" fill="none" stroke="#3a4fbd" stroke-width="1.1" stroke-linejoin="round"/>
<circle cx="398.55" cy="79.00" r="2.12" fill="none" stroke="#3a4fbd" stroke-width="1.15"/>
<circle cx="414.16" cy="80.20" r="2.12" fill="none" stroke="#3a4fbd" stroke-width="1.15"/>
<circle cx="429.76" cy="82.20" r="2.12" fill="none" stroke="#3a4fbd" stroke-width="1.15"/>
<circle cx="445.37" cy="85.40" r="2.12" fill="none" stroke="#3a4fbd" stroke-width="1.15"/>
<circle cx="460.97" cy="87.40" r="2.12" fill="none" stroke="#3a4fbd" stroke-width="1.15"/>
<circle cx="476.58" cy="89.80" r="2.12" fill="none" stroke="#3a4fbd" stroke-width="1.15"/>
<circle cx="492.18" cy="90.20" r="2.12" fill="none" stroke="#3a4fbd" stroke-width="1.15"/>
<circle cx="507.79" cy="91.40" r="2.12" fill="none" stroke="#3a4fbd" stroke-width="1.15"/>
<circle cx="523.39" cy="92.60" r="2.12" fill="none" stroke="#3a4fbd" stroke-width="1.15"/>
<circle cx="539.00" cy="93.40" r="2.12" fill="none" stroke="#3a4fbd" stroke-width="1.15"/>
<polyline points="398.55,86.20 414.16,89.40 429.76,91.40 445.37,93.40 460.97,93.80 476.58,97.00 492.18,97.80 507.79,97.00 523.39,98.60 539.00,97.40" fill="none" stroke="#1f8a3a" stroke-width="1.1" stroke-linejoin="round"/>
<polygon points="400.58,87.04 399.39,88.23 397.71,88.23 396.52,87.04 396.52,85.36 397.71,84.17 399.39,84.17 400.58,85.36" fill="none" stroke="#1f8a3a" stroke-width="1.15"/>
<polygon points="416.19,90.24 415.00,91.43 413.31,91.43 412.12,90.24 412.12,88.56 413.31,87.37 415.00,87.37 416.19,88.56" fill="none" stroke="#1f8a3a" stroke-width="1.15"/>
<polygon points="431.79,92.24 430.60,93.43 428.92,93.43 427.73,92.24 427.73,90.56 428.92,89.37 430.60,89.37 431.79,90.56" fill="none" stroke="#1f8a3a" stroke-width="1.15"/>
<polygon points="447.40,94.24 446.21,95.43 444.52,95.43 443.33,94.24 443.33,92.56 444.52,91.37 446.21,91.37 447.40,92.56" fill="none" stroke="#1f8a3a" stroke-width="1.15"/>
<polygon points="463.00,94.64 461.81,95.83 460.13,95.83 458.94,94.64 458.94,92.96 460.13,91.77 461.81,91.77 463.00,92.96" fill="none" stroke="#1f8a3a" stroke-width="1.15"/>
<polygon points="478.61,97.84 477.42,99.03 475.74,99.03 474.55,97.84 474.55,96.16 475.74,94.97 477.42,94.97 478.61,96.16" fill="none" stroke="#1f8a3a" stroke-width="1.15"/>
<polygon points="494.22,98.64 493.03,99.83 491.34,99.83 490.15,98.64 490.15,96.96 491.34,95.77 493.03,95.77 494.22,96.96" fill="none" stroke="#1f8a3a" stroke-width="1.15"/>
<polygon points="509.82,97.84 508.63,99.03 506.95,99.03 505.76,97.84 505.76,96.16 506.95,94.97 508.63,94.97 509.82,96.16" fill="none" stroke="#1f8a3a" stroke-width="1.15"/>
<polygon points="525.43,99.44 524.24,100.63 522.55,100.63 521.36,99.44 521.36,97.76 522.55,96.57 524.24,96.57 525.43,97.76" fill="none" stroke="#1f8a3a" stroke-width="1.15"/>
<polygon points="541.03,98.24 539.84,99.43 538.16,99.43 536.97,98.24 536.97,96.56 538.16,95.37 539.84,95.37 541.03,96.56" fill="none" stroke="#1f8a3a" stroke-width="1.15"/>
<polyline points="398.55,74.20 414.16,75.40 429.76,76.60 445.37,78.20 460.97,78.20 476.58,79.80 492.18,80.20 507.79,80.20 523.39,81.80 539.00,83.00" fill="none" stroke="#128282" stroke-width="1.1" stroke-linejoin="round"/>
<polygon points="398.55,71.50 399.25,73.38 401.26,73.47 399.69,74.72 400.23,76.66 398.55,75.55 396.87,76.66 397.41,74.72 395.84,73.47 397.85,73.38" fill="#128282" stroke="#128282" stroke-width="0.4" stroke-linejoin="round"/>
<polygon points="414.16,72.70 414.86,74.58 416.87,74.67 415.29,75.92 415.83,77.86 414.16,76.75 412.48,77.86 413.02,75.92 411.45,74.67 413.45,74.58" fill="#128282" stroke="#128282" stroke-width="0.4" stroke-linejoin="round"/>
<polygon points="429.76,73.90 430.46,75.78 432.47,75.87 430.90,77.12 431.44,79.06 429.76,77.95 428.09,79.06 428.62,77.12 427.05,75.87 429.06,75.78" fill="#128282" stroke="#128282" stroke-width="0.4" stroke-linejoin="round"/>
<polygon points="445.37,75.50 446.07,77.38 448.08,77.47 446.51,78.72 447.04,80.66 445.37,79.55 443.69,80.66 444.23,78.72 442.66,77.47 444.66,77.38" fill="#128282" stroke="#128282" stroke-width="0.4" stroke-linejoin="round"/>
<polygon points="460.97,75.50 461.68,77.38 463.68,77.47 462.11,78.72 462.65,80.66 460.97,79.55 459.30,80.66 459.83,78.72 458.26,77.47 460.27,77.38" fill="#128282" stroke="#128282" stroke-width="0.4" stroke-linejoin="round"/>
<polygon points="476.58,77.10 477.28,78.98 479.29,79.07 477.72,80.32 478.25,82.26 476.58,81.15 474.90,82.26 475.44,80.32 473.87,79.07 475.87,78.98" fill="#128282" stroke="#128282" stroke-width="0.4" stroke-linejoin="round"/>
<polygon points="492.18,77.50 492.89,79.38 494.89,79.47 493.32,80.72 493.86,82.66 492.18,81.55 490.51,82.66 491.04,80.72 489.47,79.47 491.48,79.38" fill="#128282" stroke="#128282" stroke-width="0.4" stroke-linejoin="round"/>
<polygon points="507.79,77.50 508.49,79.38 510.50,79.47 508.93,80.72 509.46,82.66 507.79,81.55 506.11,82.66 506.65,80.72 505.08,79.47 507.09,79.38" fill="#128282" stroke="#128282" stroke-width="0.4" stroke-linejoin="round"/>
<polygon points="523.39,79.10 524.10,80.98 526.10,81.07 524.53,82.32 525.07,84.26 523.39,83.15 521.72,84.26 522.26,82.32 520.68,81.07 522.69,80.98" fill="#128282" stroke="#128282" stroke-width="0.4" stroke-linejoin="round"/>
<polygon points="539.00,80.30 539.70,82.18 541.71,82.27 540.14,83.52 540.68,85.46 539.00,84.35 537.32,85.46 537.86,83.52 536.29,82.27 538.30,82.18" fill="#128282" stroke="#128282" stroke-width="0.4" stroke-linejoin="round"/>
<polyline points="398.55,100.20 414.16,99.80 429.76,101.00 445.37,101.80 460.97,102.20 476.58,101.40 492.18,103.40 507.79,103.40 523.39,103.40 539.00,105.00" fill="none" stroke="#ec2a2a" stroke-width="1.1" stroke-linejoin="round"/>
<path d="M398.55,100.20L398.55,102.80M398.55,100.20L396.30,98.90M398.55,100.20L400.80,98.90" fill="none" stroke="#ec2a2a" stroke-width="1.2"/>
<path d="M414.16,99.80L414.16,102.40M414.16,99.80L411.90,98.50M414.16,99.80L416.41,98.50" fill="none" stroke="#ec2a2a" stroke-width="1.2"/>
<path d="M429.76,101.00L429.76,103.60M429.76,101.00L427.51,99.70M429.76,101.00L432.01,99.70" fill="none" stroke="#ec2a2a" stroke-width="1.2"/>
<path d="M445.37,101.80L445.37,104.40M445.37,101.80L443.12,100.50M445.37,101.80L447.62,100.50" fill="none" stroke="#ec2a2a" stroke-width="1.2"/>
<path d="M460.97,102.20L460.97,104.80M460.97,102.20L458.72,100.90M460.97,102.20L463.22,100.90" fill="none" stroke="#ec2a2a" stroke-width="1.2"/>
<path d="M476.58,101.40L476.58,104.00M476.58,101.40L474.33,100.10M476.58,101.40L478.83,100.10" fill="none" stroke="#ec2a2a" stroke-width="1.2"/>
<path d="M492.18,103.40L492.18,106.00M492.18,103.40L489.93,102.10M492.18,103.40L494.43,102.10" fill="none" stroke="#ec2a2a" stroke-width="1.2"/>
<path d="M507.79,103.40L507.79,106.00M507.79,103.40L505.54,102.10M507.79,103.40L510.04,102.10" fill="none" stroke="#ec2a2a" stroke-width="1.2"/>
<path d="M523.39,103.40L523.39,106.00M523.39,103.40L521.14,102.10M523.39,103.40L525.65,102.10" fill="none" stroke="#ec2a2a" stroke-width="1.2"/>
<path d="M539.00,105.00L539.00,107.60M539.00,105.00L536.75,103.70M539.00,105.00L541.25,103.70" fill="none" stroke="#ec2a2a" stroke-width="1.2"/>
<polyline points="398.55,102.20 414.16,103.80 429.76,104.60 445.37,105.80 460.97,104.60 476.58,105.80 492.18,106.20 507.79,105.00 523.39,105.40 539.00,106.20" fill="none" stroke="#86cbec" stroke-width="1.1" stroke-linejoin="round"/>
<rect x="396.55" y="100.20" width="4.00" height="4.00" fill="none" stroke="#86cbec" stroke-width="1.15"/>
<rect x="412.16" y="101.80" width="4.00" height="4.00" fill="none" stroke="#86cbec" stroke-width="1.15"/>
<rect x="427.76" y="102.60" width="4.00" height="4.00" fill="none" stroke="#86cbec" stroke-width="1.15"/>
<rect x="443.37" y="103.80" width="4.00" height="4.00" fill="none" stroke="#86cbec" stroke-width="1.15"/>
<rect x="458.97" y="102.60" width="4.00" height="4.00" fill="none" stroke="#86cbec" stroke-width="1.15"/>
<rect x="474.58" y="103.80" width="4.00" height="4.00" fill="none" stroke="#86cbec" stroke-width="1.15"/>
<rect x="490.18" y="104.20" width="4.00" height="4.00" fill="none" stroke="#86cbec" stroke-width="1.15"/>
<rect x="505.79" y="103.00" width="4.00" height="4.00" fill="none" stroke="#86cbec" stroke-width="1.15"/>
<rect x="521.39" y="103.40" width="4.00" height="4.00" fill="none" stroke="#86cbec" stroke-width="1.15"/>
<rect x="537.00" y="104.20" width="4.00" height="4.00" fill="none" stroke="#86cbec" stroke-width="1.15"/>
<polyline points="398.55,117.80 414.16,118.20 429.76,117.80 445.37,119.40 460.97,119.80 476.58,119.00 492.18,118.20 507.79,120.20 523.39,120.20 539.00,119.40" fill="none" stroke="#f47a6c" stroke-width="1.1" stroke-linejoin="round"/>
<polygon points="398.55,120.15 395.95,115.55 401.15,115.55" fill="none" stroke="#f47a6c" stroke-width="1.05" stroke-linejoin="miter"/>
<polygon points="414.16,120.55 411.56,115.95 416.76,115.95" fill="none" stroke="#f47a6c" stroke-width="1.05" stroke-linejoin="miter"/>
<polygon points="429.76,120.15 427.16,115.55 432.36,115.55" fill="none" stroke="#f47a6c" stroke-width="1.05" stroke-linejoin="miter"/>
<polygon points="445.37,121.75 442.77,117.15 447.97,117.15" fill="none" stroke="#f47a6c" stroke-width="1.05" stroke-linejoin="miter"/>
<polygon points="460.97,122.15 458.37,117.55 463.57,117.55" fill="none" stroke="#f47a6c" stroke-width="1.05" stroke-linejoin="miter"/>
<polygon points="476.58,121.35 473.98,116.75 479.18,116.75" fill="none" stroke="#f47a6c" stroke-width="1.05" stroke-linejoin="miter"/>
<polygon points="492.18,120.55 489.58,115.95 494.78,115.95" fill="none" stroke="#f47a6c" stroke-width="1.05" stroke-linejoin="miter"/>
<polygon points="507.79,122.55 505.19,117.95 510.39,117.95" fill="none" stroke="#f47a6c" stroke-width="1.05" stroke-linejoin="miter"/>
<polygon points="523.39,122.55 520.79,117.95 525.99,117.95" fill="none" stroke="#f47a6c" stroke-width="1.05" stroke-linejoin="miter"/>
<polygon points="539.00,121.75 536.40,117.15 541.60,117.15" fill="none" stroke="#f47a6c" stroke-width="1.05" stroke-linejoin="miter"/>
</g>
<line x1="396.30" y1="18.20" x2="396.30" y2="126.60" stroke="#4d4d4d" stroke-width="0.8"/>
<line x1="395.90" y1="126.20" x2="540.90" y2="126.20" stroke="#4d4d4d" stroke-width="0.8"/>
<line x1="398.55" y1="126.20" x2="398.55" y2="128.40" stroke="#4d4d4d" stroke-width="0.7"/>
<text x="398.55" y="135.05" font-size="7.31" text-anchor="middle" textLength="12.65" lengthAdjust="spacingAndGlyphs" fill="#141414" stroke="#141414" stroke-width="0.24">100</text>
<line x1="414.16" y1="126.20" x2="414.16" y2="128.40" stroke="#4d4d4d" stroke-width="0.7"/>
<text x="414.16" y="135.05" font-size="7.31" text-anchor="middle" textLength="12.71" lengthAdjust="spacingAndGlyphs" fill="#141414" stroke="#141414" stroke-width="0.24">200</text>
<line x1="429.76" y1="126.20" x2="429.76" y2="128.40" stroke="#4d4d4d" stroke-width="0.7"/>
<text x="429.76" y="135.05" font-size="7.31" text-anchor="middle" textLength="12.59" lengthAdjust="spacingAndGlyphs" fill="#141414" stroke="#141414" stroke-width="0.24">300</text>
<line x1="445.37" y1="126.20" x2="445.37" y2="128.40" stroke="#4d4d4d" stroke-width="0.7"/>
<text x="445.37" y="135.05" font-size="7.31" text-anchor="middle" textLength="12.67" lengthAdjust="spacingAndGlyphs" fill="#141414" stroke="#141414" stroke-width="0.24">400</text>
<line x1="460.97" y1="126.20" x2="460.97" y2="128.40" stroke="#4d4d4d" stroke-width="0.7"/>
<text x="460.97" y="135.05" font-size="7.31" text-anchor="middle" textLength="12.60" lengthAdjust="spacingAndGlyphs" fill="#141414" stroke="#141414" stroke-width="0.24">500</text>
<line x1="476.58" y1="126.20" x2="476.58" y2="128.40" stroke="#4d4d4d" stroke-width="0.7"/>
<text x="476.58" y="135.05" font-size="7.31" text-anchor="middle" textLength="12.74" lengthAdjust="spacingAndGlyphs" fill="#141414" stroke="#141414" stroke-width="0.24">600</text>
<line x1="492.18" y1="126.20" x2="492.18" y2="128.40" stroke="#4d4d4d" stroke-width="0.7"/>
<text x="492.18" y="135.05" font-size="7.31" text-anchor="middle" textLength="12.65" lengthAdjust="spacingAndGlyphs" fill="#141414" stroke="#141414" stroke-width="0.24">700</text>
<line x1="507.79" y1="126.20" x2="507.79" y2="128.40" stroke="#4d4d4d" stroke-width="0.7"/>
<text x="507.79" y="135.05" font-size="7.31" text-anchor="middle" textLength="12.69" lengthAdjust="spacingAndGlyphs" fill="#141414" stroke="#141414" stroke-width="0.24">800</text>
<line x1="523.39" y1="126.20" x2="523.39" y2="128.40" stroke="#4d4d4d" stroke-width="0.7"/>
<text x="523.39" y="135.05" font-size="7.31" text-anchor="middle" textLength="12.76" lengthAdjust="spacingAndGlyphs" fill="#141414" stroke="#141414" stroke-width="0.24">900</text>
<line x1="539.00" y1="126.20" x2="539.00" y2="128.40" stroke="#4d4d4d" stroke-width="0.7"/>
<text x="539.00" y="135.05" font-size="7.31" text-anchor="middle" textLength="16.99" lengthAdjust="spacingAndGlyphs" fill="#141414" stroke="#141414" stroke-width="0.24">1000</text>
<line x1="394.10" y1="118.20" x2="396.30" y2="118.20" stroke="#4d4d4d" stroke-width="0.7"/>
<text x="393.10" y="121.30" font-size="8.17" text-anchor="end" textLength="16.58" lengthAdjust="spacingAndGlyphs" fill="#141414" stroke="#141414" stroke-width="0.24">0.30</text>
<line x1="394.10" y1="98.20" x2="396.30" y2="98.20" stroke="#4d4d4d" stroke-width="0.7"/>
<text x="393.10" y="101.30" font-size="8.17" text-anchor="end" textLength="16.44" lengthAdjust="spacingAndGlyphs" fill="#141414" stroke="#141414" stroke-width="0.24">0.35</text>
<line x1="394.10" y1="78.20" x2="396.30" y2="78.20" stroke="#4d4d4d" stroke-width="0.7"/>
<text x="393.10" y="81.30" font-size="8.17" text-anchor="end" textLength="16.58" lengthAdjust="spacingAndGlyphs" fill="#141414" stroke="#141414" stroke-width="0.24">0.40</text>
<line x1="394.10" y1="58.20" x2="396.30" y2="58.20" stroke="#4d4d4d" stroke-width="0.7"/>
<text x="393.10" y="61.30" font-size="8.17" text-anchor="end" textLength="16.44" lengthAdjust="spacingAndGlyphs" fill="#141414" stroke="#141414" stroke-width="0.24">0.45</text>
<line x1="394.10" y1="38.20" x2="396.30" y2="38.20" stroke="#4d4d4d" stroke-width="0.7"/>
<text x="393.10" y="41.30" font-size="8.17" text-anchor="end" textLength="16.58" lengthAdjust="spacingAndGlyphs" fill="#141414" stroke="#141414" stroke-width="0.24">0.50</text>
<line x1="394.10" y1="18.20" x2="396.30" y2="18.20" stroke="#4d4d4d" stroke-width="0.7"/>
<text x="393.10" y="21.30" font-size="8.17" text-anchor="end" textLength="16.44" lengthAdjust="spacingAndGlyphs" fill="#141414" stroke="#141414" stroke-width="0.24">0.55</text>
<text x="468.60" y="14.50" font-size="9.98" text-anchor="middle" textLength="13.48" lengthAdjust="spacingAndGlyphs" fill="#141414" stroke="#141414" stroke-width="0.12">(c)</text>
<text x="468.60" y="144.80" font-size="9.54" text-anchor="middle" textLength="122.03" lengthAdjust="spacingAndGlyphs" fill="#141414" stroke="#141414" stroke-width="0.24">Number of retrieved points</text>
<text x="372.80" y="72.20" font-size="9.54" text-anchor="middle" textLength="40.31" lengthAdjust="spacingAndGlyphs" transform="rotate(-90 372.80 72.20)" fill="#141414" stroke="#141414" stroke-width="0.24">Precision</text>
<line x1="36.00" y1="161.10" x2="36.00" y2="268.70" stroke="#d9d9dc" stroke-width="0.8"/>
<line x1="64.68" y1="161.10" x2="64.68" y2="268.70" stroke="#d9d9dc" stroke-width="0.8"/>
<line x1="93.36" y1="161.10" x2="93.36" y2="268.70" stroke="#d9d9dc" stroke-width="0.8"/>
<line x1="122.04" y1="161.10" x2="122.04" y2="268.70" stroke="#d9d9dc" stroke-width="0.8"/>
<line x1="150.72" y1="161.10" x2="150.72" y2="268.70" stroke="#d9d9dc" stroke-width="0.8"/>
<line x1="179.40" y1="161.10" x2="179.40" y2="268.70" stroke="#d9d9dc" stroke-width="0.8"/>
<line x1="34.70" y1="268.70" x2="179.70" y2="268.70" stroke="#d9d9dc" stroke-width="0.8"/>
<line x1="34.70" y1="250.77" x2="179.70" y2="250.77" stroke="#d9d9dc" stroke-width="0.8"/>
<line x1="34.70" y1="232.83" x2="179.70" y2="232.83" stroke="#d9d9dc" stroke-width="0.8"/>
<line x1="34.70" y1="214.90" x2="179.70" y2="214.90" stroke="#d9d9dc" stroke-width="0.8"/>
<line x1="34.70" y1="196.97" x2="179.70" y2="196.97" stroke="#d9d9dc" stroke-width="0.8"/>
<line x1="34.70" y1="179.03" x2="179.70" y2="179.03" stroke="#d9d9dc" stroke-width="0.8"/>
<line x1="34.70" y1="161.10" x2="179.70" y2="161.10" stroke="#d9d9dc" stroke-width="0.8"/>
<clipPath id="c388"><rect x="34.7" y="161.1" width="145.0" height="107.6"/></clipPath>
<g clip-path="url(#c388)">
<polyline points="36.00,177.96 64.68,204.14 93.36,219.20 122.04,227.09 150.72,238.93 179.40,244.31" fill="none" stroke="#111111" stroke-width="1.1" stroke-linejoin="round"/>
<polygon points="36.00,175.61 33.35,180.21 38.65,180.21" fill="none" stroke="#111111" stroke-width="1.15" stroke-linejoin="miter"/>
<polygon points="64.68,201.79 62.03,206.39 67.33,206.39" fill="none" stroke="#111111" stroke-width="1.15" stroke-linejoin="miter"/>
<polygon points="93.36,216.85 90.71,221.45 96.01,221.45" fill="none" stroke="#111111" stroke-width="1.15" stroke-linejoin="miter"/>
<polygon points="122.04,224.74 119.39,229.34 124.69,229.34" fill="none" stroke="#111111" stroke-width="1.15" stroke-linejoin="miter"/>
<polygon points="150.72,236.58 148.07,241.18 153.37,241.18" fill="none" stroke="#111111" stroke-width="1.15" stroke-linejoin="miter"/>
<polygon points="179.40,241.96 176.75,246.56 182.05,246.56" fill="none" stroke="#111111" stroke-width="1.15" stroke-linejoin="miter"/>
<polyline points="36.00,163.61 64.68,191.23 93.36,200.91 122.04,208.44 150.72,223.51 179.40,227.45" fill="none" stroke="#b52a2a" stroke-width="1.1" stroke-linejoin="round"/>
<circle cx="36.00" cy="163.61" r="2.12" fill="none" stroke="#b52a2a" stroke-width="1.15"/>
<circle cx="64.68" cy="191.23" r="2.12" fill="none" stroke="#b52a2a" stroke-width="1.15"/>
<circle cx="93.36" cy="200.91" r="2.12" fill="none" stroke="#b52a2a" stroke-width="1.15"/>
<circle cx="122.04" cy="208.44" r="2.12" fill="none" stroke="#b52a2a" stroke-width="1.15"/>
<circle cx="150.72" cy="223.51" r="2.12" fill="none" stroke="#b52a2a" stroke-width="1.15"/>
<circle cx="179.40" cy="227.45" r="2.12" fill="none" stroke="#b52a2a" stroke-width="1.15"/>
<polyline points="36.00,185.85 64.68,210.95 93.36,223.87 122.04,234.99 150.72,241.80 179.40,247.90" fill="none" stroke="#52c4dd" stroke-width="1.1" stroke-linejoin="round"/>
<polygon points="36.00,182.55 37.85,185.85 36.00,189.15 34.15,185.85" fill="none" stroke="#52c4dd" stroke-width="1.15"/>
<polygon points="64.68,207.65 66.53,210.95 64.68,214.25 62.83,210.95" fill="none" stroke="#52c4dd" stroke-width="1.15"/>
<polygon points="93.36,220.57 95.21,223.87 93.36,227.17 91.51,223.87" fill="none" stroke="#52c4dd" stroke-width="1.15"/>
<polygon points="122.04,231.69 123.89,234.99 122.04,238.29 120.19,234.99" fill="none" stroke="#52c4dd" stroke-width="1.15"/>
<polygon points="150.72,238.50 152.57,241.80 150.72,245.10 148.87,241.80" fill="none" stroke="#52c4dd" stroke-width="1.15"/>
<polygon points="179.40,244.60 181.25,247.90 179.40,251.20 177.55,247.90" fill="none" stroke="#52c4dd" stroke-width="1.15"/>
<polyline points="36.00,202.71 64.68,225.30 93.36,229.96 122.04,238.57 150.72,244.31 179.40,248.61" fill="none" stroke="#3a4fbd" stroke-width="1.1" stroke-linejoin="round"/>
<circle cx="36.00" cy="202.71" r="2.12" fill="none" stroke="#3a4fbd" stroke-width="1.15"/>
<circle cx="64.68" cy="225.30" r="2.12" fill="none" stroke="#3a4fbd" stroke-width="1.15"/>
<circle cx="93.36" cy="229.96" r="2.12" fill="none" stroke="#3a4fbd" stroke-width="1.15"/>
<circle cx="122.04" cy="238.57" r="2.12" fill="none" stroke="#3a4fbd" stroke-width="1.15"/>
<circle cx="150.72" cy="244.31" r="2.12" fill="none" stroke="#3a4fbd" stroke-width="1.15"/>
<circle cx="179.40" cy="248.61" r="2.12" fill="none" stroke="#3a4fbd" stroke-width="1.15"/>
<polyline points="36.00,207.01 64.68,225.66 93.36,232.83 122.04,240.37 150.72,244.67 179.40,248.97" fill="none" stroke="#1f8a3a" stroke-width="1.1" stroke-linejoin="round"/>
<polygon points="38.03,207.85 36.84,209.04 35.16,209.04 33.97,207.85 33.97,206.17 35.16,204.98 36.84,204.98 38.03,206.17" fill="none" stroke="#1f8a3a" stroke-width="1.15"/>
<polygon points="66.71,226.50 65.52,227.69 63.84,227.69 62.65,226.50 62.65,224.82 63.84,223.63 65.52,223.63 66.71,224.82" fill="none" stroke="#1f8a3a" stroke-width="1.15"/>
<polygon points="95.39,233.68 94.20,234.87 92.52,234.87 91.33,233.68 91.33,231.99 92.52,230.80 94.20,230.80 95.39,231.99" fill="none" stroke="#1f8a3a" stroke-width="1.15"/>
<polygon points="124.07,241.21 122.88,242.40 121.20,242.40 120.01,241.21 120.01,239.52 121.20,238.33 122.88,238.33 124.07,239.52" fill="none" stroke="#1f8a3a" stroke-width="1.15"/>
<polygon points="152.75,245.51 151.56,246.70 149.88,246.70 148.69,245.51 148.69,243.83 149.88,242.64 151.56,242.64 152.75,243.83" fill="none" stroke="#1f8a3a" stroke-width="1.15"/>
<polygon points="181.43,249.82 180.24,251.01 178.56,251.01 177.37,249.82 177.37,248.13 178.56,246.94 180.24,246.94 181.43,248.13" fill="none" stroke="#1f8a3a" stroke-width="1.15"/>
<polyline points="36.00,198.76 64.68,218.85 93.36,225.30 122.04,234.99 150.72,241.80 179.40,248.61" fill="none" stroke="#128282" stroke-width="1.1" stroke-linejoin="round"/>
<polygon points="36.00,196.06 36.70,197.94 38.71,198.03 37.14,199.28 37.68,201.22 36.00,200.11 34.32,201.22 34.86,199.28 33.29,198.03 35.30,197.94" fill="#128282" stroke="#128282" stroke-width="0.4" stroke-linejoin="round"/>
<polygon points="64.68,216.15 65.38,218.03 67.39,218.11 65.82,219.37 66.36,221.30 64.68,220.19 63.00,221.30 63.54,219.37 61.97,218.11 63.98,218.03" fill="#128282" stroke="#128282" stroke-width="0.4" stroke-linejoin="round"/>
<polygon points="93.36,222.60 94.06,224.48 96.07,224.57 94.50,225.82 95.04,227.76 93.36,226.65 91.68,227.76 92.22,225.82 90.65,224.57 92.66,224.48" fill="#128282" stroke="#128282" stroke-width="0.4" stroke-linejoin="round"/>
<polygon points="122.04,232.29 122.74,234.17 124.75,234.25 123.18,235.51 123.72,237.44 122.04,236.33 120.36,237.44 120.90,235.51 119.33,234.25 121.34,234.17" fill="#128282" stroke="#128282" stroke-width="0.4" stroke-linejoin="round"/>
<polygon points="150.72,239.10 151.42,240.98 153.43,241.07 151.86,242.32 152.40,244.26 150.72,243.15 149.04,244.26 149.58,242.32 148.01,241.07 150.02,240.98" fill="#128282" stroke="#128282" stroke-width="0.4" stroke-linejoin="round"/>
<polygon points="179.40,245.91 180.10,247.80 182.11,247.88 180.54,249.13 181.08,251.07 179.40,249.96 177.72,251.07 178.26,249.13 176.69,247.88 178.70,247.80" fill="#128282" stroke="#128282" stroke-width="0.4" stroke-linejoin="round"/>
<polyline points="36.00,220.28 64.68,234.63 93.36,243.23 122.04,245.75 150.72,247.90 179.40,248.97" fill="none" stroke="#ec2a2a" stroke-width="1.1" stroke-linejoin="round"/>
<path d="M36.00,220.28L36.00,222.88M36.00,220.28L33.75,218.98M36.00,220.28L38.25,218.98" fill="none" stroke="#ec2a2a" stroke-width="1.2"/>
<path d="M64.68,234.63L64.68,237.23M64.68,234.63L62.43,233.33M64.68,234.63L66.93,233.33" fill="none" stroke="#ec2a2a" stroke-width="1.2"/>
<path d="M93.36,243.23L93.36,245.83M93.36,243.23L91.11,241.93M93.36,243.23L95.61,241.93" fill="none" stroke="#ec2a2a" stroke-width="1.2"/>
<path d="M122.04,245.75L122.04,248.35M122.04,245.75L119.79,244.45M122.04,245.75L124.29,244.45" fill="none" stroke="#ec2a2a" stroke-width="1.2"/>
<path d="M150.72,247.90L150.72,250.50M150.72,247.90L148.47,246.60M150.72,247.90L152.97,246.60" fill="none" stroke="#ec2a2a" stroke-width="1.2"/>
<path d="M179.40,248.97L179.40,251.57M179.40,248.97L177.15,247.67M179.40,248.97L181.65,247.67" fill="none" stroke="#ec2a2a" stroke-width="1.2"/>
<polyline points="36.00,225.66 64.68,240.01 93.36,247.18 122.04,251.13 150.72,254.71 179.40,255.43" fill="none" stroke="#86cbec" stroke-width="1.1" stroke-linejoin="round"/>
<rect x="34.00" y="223.66" width="4.00" height="4.00" fill="none" stroke="#86cbec" stroke-width="1.15"/>
<rect x="62.68" y="238.01" width="4.00" height="4.00" fill="none" stroke="#86cbec" stroke-width="1.15"/>
<rect x="91.36" y="245.18" width="4.00" height="4.00" fill="none" stroke="#86cbec" stroke-width="1.15"/>
<rect x="120.04" y="249.13" width="4.00" height="4.00" fill="none" stroke="#86cbec" stroke-width="1.15"/>
<rect x="148.72" y="252.71" width="4.00" height="4.00" fill="none" stroke="#86cbec" stroke-width="1.15"/>
<rect x="177.40" y="253.43" width="4.00" height="4.00" fill="none" stroke="#86cbec" stroke-width="1.15"/>
<polyline points="36.00,244.67 64.68,245.39 93.36,247.18 122.04,247.18 150.72,247.90 179.40,249.33" fill="none" stroke="#f47a6c" stroke-width="1.1" stroke-linejoin="round"/>
<polygon points="36.00,247.02 33.40,242.42 38.60,242.42" fill="none" stroke="#f47a6c" stroke-width="1.05" stroke-linejoin="miter"/>
<polygon points="64.68,247.74 62.08,243.14 67.28,243.14" fill="none" stroke="#f47a6c" stroke-width="1.05" stroke-linejoin="miter"/>
<polygon points="93.36,249.53 90.76,244.93 95.96,244.93" fill="none" stroke="#f47a6c" stroke-width="1.05" stroke-linejoin="miter"/>
<polygon points="122.04,249.53 119.44,244.93 124.64,244.93" fill="none" stroke="#f47a6c" stroke-width="1.05" stroke-linejoin="miter"/>
<polygon points="150.72,250.25 148.12,245.65 153.32,245.65" fill="none" stroke="#f47a6c" stroke-width="1.05" stroke-linejoin="miter"/>
<polygon points="179.40,251.68 176.80,247.08 182.00,247.08" fill="none" stroke="#f47a6c" stroke-width="1.05" stroke-linejoin="miter"/>
</g>
<line x1="34.70" y1="161.10" x2="34.70" y2="269.10" stroke="#4d4d4d" stroke-width="0.8"/>
<line x1="34.30" y1="268.70" x2="179.70" y2="268.70" stroke="#4d4d4d" stroke-width="0.8"/>
<line x1="36.00" y1="268.70" x2="36.00" y2="270.90" stroke="#4d4d4d" stroke-width="0.7"/>
<text x="36.00" y="278.35" font-size="8.06" text-anchor="middle" textLength="11.59" lengthAdjust="spacingAndGlyphs" fill="#141414" stroke="#141414" stroke-width="0.24">0.0</text>
<line x1="64.68" y1="268.70" x2="64.68" y2="270.90" stroke="#4d4d4d" stroke-width="0.7"/>
<text x="64.68" y="278.35" font-size="8.06" text-anchor="middle" textLength="11.42" lengthAdjust="spacingAndGlyphs" fill="#141414" stroke="#141414" stroke-width="0.24">0.2</text>
<line x1="93.36" y1="268.70" x2="93.36" y2="270.90" stroke="#4d4d4d" stroke-width="0.7"/>
<text x="93.36" y="278.35" font-size="8.06" text-anchor="middle" textLength="11.58" lengthAdjust="spacingAndGlyphs" fill="#141414" stroke="#141414" stroke-width="0.24">0.4</text>
<line x1="122.04" y1="268.70" x2="122.04" y2="270.90" stroke="#4d4d4d" stroke-width="0.7"/>
<text x="122.04" y="278.35" font-size="8.06" text-anchor="middle" textLength="11.66" lengthAdjust="spacingAndGlyphs" fill="#141414" stroke="#141414" stroke-width="0.24">0.6</text>
<line x1="150.72" y1="268.70" x2="150.72" y2="270.90" stroke="#4d4d4d" stroke-width="0.7"/>
<text x="150.72" y="278.35" font-size="8.06" text-anchor="middle" textLength="11.61" lengthAdjust="spacingAndGlyphs" fill="#141414" stroke="#141414" stroke-width="0.24">0.8</text>
<line x1="179.40" y1="268.70" x2="179.40" y2="270.90" stroke="#4d4d4d" stroke-width="0.7"/>
<text x="179.40" y="278.35" font-size="8.06" text-anchor="middle" textLength="11.56" lengthAdjust="spacingAndGlyphs" fill="#141414" stroke="#141414" stroke-width="0.24">1.0</text>
<line x1="32.50" y1="268.70" x2="34.70" y2="268.70" stroke="#4d4d4d" stroke-width="0.7"/>
<text x="31.50" y="271.80" font-size="8.17" text-anchor="end" textLength="16.58" lengthAdjust="spacingAndGlyphs" fill="#141414" stroke="#141414" stroke-width="0.24">0.30</text>
<line x1="32.50" y1="250.77" x2="34.70" y2="250.77" stroke="#4d4d4d" stroke-width="0.7"/>
<text x="31.50" y="253.87" font-size="8.17" text-anchor="end" textLength="16.44" lengthAdjust="spacingAndGlyphs" fill="#141414" stroke="#141414" stroke-width="0.24">0.35</text>
<line x1="32.50" y1="232.83" x2="34.70" y2="232.83" stroke="#4d4d4d" stroke-width="0.7"/>
<text x="31.50" y="235.93" font-size="8.17" text-anchor="end" textLength="16.58" lengthAdjust="spacingAndGlyphs" fill="#141414" stroke="#141414" stroke-width="0.24">0.40</text>
<line x1="32.50" y1="214.90" x2="34.70" y2="214.90" stroke="#4d4d4d" stroke-width="0.7"/>
<text x="31.50" y="218.00" font-size="8.17" text-anchor="end" textLength="16.44" lengthAdjust="spacingAndGlyphs" fill="#141414" stroke="#141414" stroke-width="0.24">0.45</text>
<line x1="32.50" y1="196.97" x2="34.70" y2="196.97" stroke="#4d4d4d" stroke-width="0.7"/>
<text x="31.50" y="200.07" font-size="8.17" text-anchor="end" textLength="16.58" lengthAdjust="spacingAndGlyphs" fill="#141414" stroke="#141414" stroke-width="0.24">0.50</text>
<line x1="32.50" y1="179.03" x2="34.70" y2="179.03" stroke="#4d4d4d" stroke-width="0.7"/>
<text x="31.50" y="182.13" font-size="8.17" text-anchor="end" textLength="16.44" lengthAdjust="spacingAndGlyphs" fill="#141414" stroke="#141414" stroke-width="0.24">0.55</text>
<line x1="32.50" y1="161.10" x2="34.70" y2="161.10" stroke="#4d4d4d" stroke-width="0.7"/>
<text x="31.50" y="164.20" font-size="8.17" text-anchor="end" textLength="16.58" lengthAdjust="spacingAndGlyphs" fill="#141414" stroke="#141414" stroke-width="0.24">0.60</text>
<text x="107.20" y="157.40" font-size="9.98" text-anchor="middle" textLength="14.39" lengthAdjust="spacingAndGlyphs" fill="#141414" stroke="#141414" stroke-width="0.12">(d)</text>
<text x="107.20" y="288.00" font-size="9.54" text-anchor="middle" textLength="26.97" lengthAdjust="spacingAndGlyphs" fill="#141414" stroke="#141414" stroke-width="0.24">Recall</text>
<text x="13.00" y="214.90" font-size="9.54" text-anchor="middle" textLength="40.31" lengthAdjust="spacingAndGlyphs" transform="rotate(-90 13.00 214.90)" fill="#141414" stroke="#141414" stroke-width="0.24">Precision</text>
<line x1="217.50" y1="161.10" x2="217.50" y2="268.70" stroke="#d9d9dc" stroke-width="0.8"/>
<line x1="233.09" y1="161.10" x2="233.09" y2="268.70" stroke="#d9d9dc" stroke-width="0.8"/>
<line x1="248.68" y1="161.10" x2="248.68" y2="268.70" stroke="#d9d9dc" stroke-width="0.8"/>
<line x1="264.27" y1="161.10" x2="264.27" y2="268.70" stroke="#d9d9dc" stroke-width="0.8"/>
<line x1="279.86" y1="161.10" x2="279.86" y2="268.70" stroke="#d9d9dc" stroke-width="0.8"/>
<line x1="295.44" y1="161.10" x2="295.44" y2="268.70" stroke="#d9d9dc" stroke-width="0.8"/>
<line x1="311.03" y1="161.10" x2="311.03" y2="268.70" stroke="#d9d9dc" stroke-width="0.8"/>
<line x1="326.62" y1="161.10" x2="326.62" y2="268.70" stroke="#d9d9dc" stroke-width="0.8"/>
<line x1="342.21" y1="161.10" x2="342.21" y2="268.70" stroke="#d9d9dc" stroke-width="0.8"/>
<line x1="357.80" y1="161.10" x2="357.80" y2="268.70" stroke="#d9d9dc" stroke-width="0.8"/>
<line x1="215.50" y1="264.90" x2="360.30" y2="264.90" stroke="#d9d9dc" stroke-width="0.8"/>
<line x1="215.50" y1="244.14" x2="360.30" y2="244.14" stroke="#d9d9dc" stroke-width="0.8"/>
<line x1="215.50" y1="223.38" x2="360.30" y2="223.38" stroke="#d9d9dc" stroke-width="0.8"/>
<line x1="215.50" y1="202.62" x2="360.30" y2="202.62" stroke="#d9d9dc" stroke-width="0.8"/>
<line x1="215.50" y1="181.86" x2="360.30" y2="181.86" stroke="#d9d9dc" stroke-width="0.8"/>
<line x1="215.50" y1="161.10" x2="360.30" y2="161.10" stroke="#d9d9dc" stroke-width="0.8"/>
<clipPath id="c501"><rect x="215.5" y="161.1" width="144.8" height="107.6"/></clipPath>
<g clip-path="url(#c501)">
<polyline points="217.50,193.49 233.09,194.73 248.68,198.05 264.27,200.13 279.86,200.13 295.44,200.96 311.03,202.62 326.62,204.70 342.21,204.70 357.80,204.70" fill="none" stroke="#111111" stroke-width="1.1" stroke-linejoin="round"/>
<polygon points="217.50,191.14 214.85,195.74 220.15,195.74" fill="none" stroke="#111111" stroke-width="1.15" stroke-linejoin="miter"/>
<polygon points="233.09,192.38 230.44,196.98 235.74,196.98" fill="none" stroke="#111111" stroke-width="1.15" stroke-linejoin="miter"/>
<polygon points="248.68,195.70 246.03,200.30 251.33,200.30" fill="none" stroke="#111111" stroke-width="1.15" stroke-linejoin="miter"/>
<polygon points="264.27,197.78 261.62,202.38 266.92,202.38" fill="none" stroke="#111111" stroke-width="1.15" stroke-linejoin="miter"/>
<polygon points="279.86,197.78 277.21,202.38 282.51,202.38" fill="none" stroke="#111111" stroke-width="1.15" stroke-linejoin="miter"/>
<polygon points="295.44,198.61 292.79,203.21 298.09,203.21" fill="none" stroke="#111111" stroke-width="1.15" stroke-linejoin="miter"/>
<polygon points="311.03,200.27 308.38,204.87 313.68,204.87" fill="none" stroke="#111111" stroke-width="1.15" stroke-linejoin="miter"/>
<polygon points="326.62,202.35 323.97,206.95 329.27,206.95" fill="none" stroke="#111111" stroke-width="1.15" stroke-linejoin="miter"/>
<polygon points="342.21,202.35 339.56,206.95 344.86,206.95" fill="none" stroke="#111111" stroke-width="1.15" stroke-linejoin="miter"/>
<polygon points="357.80,202.35 355.15,206.95 360.45,206.95" fill="none" stroke="#111111" stroke-width="1.15" stroke-linejoin="miter"/>
<polyline points="217.50,171.48 233.09,171.06 248.68,176.88 264.27,181.86 279.86,178.54 295.44,187.67 311.03,183.11 326.62,183.11 342.21,185.18 357.80,185.60" fill="none" stroke="#b52a2a" stroke-width="1.1" stroke-linejoin="round"/>
<circle cx="217.50" cy="171.48" r="2.12" fill="none" stroke="#b52a2a" stroke-width="1.15"/>
<circle cx="233.09" cy="171.06" r="2.12" fill="none" stroke="#b52a2a" stroke-width="1.15"/>
<circle cx="248.68" cy="176.88" r="2.12" fill="none" stroke="#b52a2a" stroke-width="1.15"/>
<circle cx="264.27" cy="181.86" r="2.12" fill="none" stroke="#b52a2a" stroke-width="1.15"/>
<circle cx="279.86" cy="178.54" r="2.12" fill="none" stroke="#b52a2a" stroke-width="1.15"/>
<circle cx="295.44" cy="187.67" r="2.12" fill="none" stroke="#b52a2a" stroke-width="1.15"/>
<circle cx="311.03" cy="183.11" r="2.12" fill="none" stroke="#b52a2a" stroke-width="1.15"/>
<circle cx="326.62" cy="183.11" r="2.12" fill="none" stroke="#b52a2a" stroke-width="1.15"/>
<circle cx="342.21" cy="185.18" r="2.12" fill="none" stroke="#b52a2a" stroke-width="1.15"/>
<circle cx="357.80" cy="185.60" r="2.12" fill="none" stroke="#b52a2a" stroke-width="1.15"/>
<polyline points="217.50,198.47 233.09,200.13 248.68,202.20 264.27,203.45 279.86,205.53 295.44,206.77 311.03,208.02 326.62,209.68 342.21,209.68 357.80,210.51" fill="none" stroke="#52c4dd" stroke-width="1.1" stroke-linejoin="round"/>
<polygon points="217.50,195.17 219.35,198.47 217.50,201.77 215.65,198.47" fill="none" stroke="#52c4dd" stroke-width="1.15"/>
<polygon points="233.09,196.83 234.94,200.13 233.09,203.43 231.24,200.13" fill="none" stroke="#52c4dd" stroke-width="1.15"/>
<polygon points="248.68,198.90 250.53,202.20 248.68,205.50 246.83,202.20" fill="none" stroke="#52c4dd" stroke-width="1.15"/>
<polygon points="264.27,200.15 266.12,203.45 264.27,206.75 262.42,203.45" fill="none" stroke="#52c4dd" stroke-width="1.15"/>
<polygon points="279.86,202.23 281.71,205.53 279.86,208.83 278.01,205.53" fill="none" stroke="#52c4dd" stroke-width="1.15"/>
<polygon points="295.44,203.47 297.29,206.77 295.44,210.07 293.59,206.77" fill="none" stroke="#52c4dd" stroke-width="1.15"/>
<polygon points="311.03,204.72 312.88,208.02 311.03,211.32 309.18,208.02" fill="none" stroke="#52c4dd" stroke-width="1.15"/>
<polygon points="326.62,206.38 328.47,209.68 326.62,212.98 324.77,209.68" fill="none" stroke="#52c4dd" stroke-width="1.15"/>
<polygon points="342.21,206.38 344.06,209.68 342.21,212.98 340.36,209.68" fill="none" stroke="#52c4dd" stroke-width="1.15"/>
<polygon points="357.80,207.21 359.65,210.51 357.80,213.81 355.95,210.51" fill="none" stroke="#52c4dd" stroke-width="1.15"/>
<polyline points="217.50,214.25 233.09,215.91 248.68,217.15 264.27,220.06 279.86,220.89 295.44,223.38 311.03,225.46 326.62,226.29 342.21,227.53 357.80,228.36" fill="none" stroke="#3a4fbd" stroke-width="1.1" stroke-linejoin="round"/>
<circle cx="217.50" cy="214.25" r="2.12" fill="none" stroke="#3a4fbd" stroke-width="1.15"/>
<circle cx="233.09" cy="215.91" r="2.12" fill="none" stroke="#3a4fbd" stroke-width="1.15"/>
<circle cx="248.68" cy="217.15" r="2.12" fill="none" stroke="#3a4fbd" stroke-width="1.15"/>
<circle cx="264.27" cy="220.06" r="2.12" fill="none" stroke="#3a4fbd" stroke-width="1.15"/>
<circle cx="279.86" cy="220.89" r="2.12" fill="none" stroke="#3a4fbd" stroke-width="1.15"/>
<circle cx="295.44" cy="223.38" r="2.12" fill="none" stroke="#3a4fbd" stroke-width="1.15"/>
<circle cx="311.03" cy="225.46" r="2.12" fill="none" stroke="#3a4fbd" stroke-width="1.15"/>
<circle cx="326.62" cy="226.29" r="2.12" fill="none" stroke="#3a4fbd" stroke-width="1.15"/>
<circle cx="342.21" cy="227.53" r="2.12" fill="none" stroke="#3a4fbd" stroke-width="1.15"/>
<circle cx="357.80" cy="228.36" r="2.12" fill="none" stroke="#3a4fbd" stroke-width="1.15"/>
<polyline points="217.50,219.64 233.09,223.38 248.68,226.29 264.27,227.12 279.86,230.02 295.44,231.68 311.03,232.51 326.62,232.10 342.21,232.10 357.80,233.76" fill="none" stroke="#1f8a3a" stroke-width="1.1" stroke-linejoin="round"/>
<polygon points="219.53,220.49 218.34,221.68 216.66,221.68 215.47,220.49 215.47,218.80 216.66,217.61 218.34,217.61 219.53,218.80" fill="none" stroke="#1f8a3a" stroke-width="1.15"/>
<polygon points="235.12,224.22 233.93,225.41 232.25,225.41 231.06,224.22 231.06,222.54 232.25,221.35 233.93,221.35 235.12,222.54" fill="none" stroke="#1f8a3a" stroke-width="1.15"/>
<polygon points="250.71,227.13 249.52,228.32 247.84,228.32 246.65,227.13 246.65,225.44 247.84,224.25 249.52,224.25 250.71,225.44" fill="none" stroke="#1f8a3a" stroke-width="1.15"/>
<polygon points="266.30,227.96 265.11,229.15 263.42,229.15 262.23,227.96 262.23,226.27 263.42,225.08 265.11,225.08 266.30,226.27" fill="none" stroke="#1f8a3a" stroke-width="1.15"/>
<polygon points="281.89,230.87 280.70,232.06 279.01,232.06 277.82,230.87 277.82,229.18 279.01,227.99 280.70,227.99 281.89,229.18" fill="none" stroke="#1f8a3a" stroke-width="1.15"/>
<polygon points="297.48,232.53 296.29,233.72 294.60,233.72 293.41,232.53 293.41,230.84 294.60,229.65 296.29,229.65 297.48,230.84" fill="none" stroke="#1f8a3a" stroke-width="1.15"/>
<polygon points="313.07,233.36 311.88,234.55 310.19,234.55 309.00,233.36 309.00,231.67 310.19,230.48 311.88,230.48 313.07,231.67" fill="none" stroke="#1f8a3a" stroke-width="1.15"/>
<polygon points="328.65,232.94 327.46,234.13 325.78,234.13 324.59,232.94 324.59,231.26 325.78,230.07 327.46,230.07 328.65,231.26" fill="none" stroke="#1f8a3a" stroke-width="1.15"/>
<polygon points="344.24,232.94 343.05,234.13 341.37,234.13 340.18,232.94 340.18,231.26 341.37,230.07 343.05,230.07 344.24,231.26" fill="none" stroke="#1f8a3a" stroke-width="1.15"/>
<polygon points="359.83,234.60 358.64,235.79 356.96,235.79 355.77,234.60 355.77,232.92 356.96,231.73 358.64,231.73 359.83,232.92" fill="none" stroke="#1f8a3a" stroke-width="1.15"/>
<polyline points="217.50,209.68 233.09,208.85 248.68,211.34 264.27,212.17 279.86,213.83 295.44,215.08 311.03,215.08 326.62,217.15 342.21,216.32 357.80,217.15" fill="none" stroke="#128282" stroke-width="1.1" stroke-linejoin="round"/>
<polygon points="217.50,206.98 218.20,208.86 220.21,208.95 218.64,210.20 219.18,212.13 217.50,211.03 215.82,212.13 216.36,210.20 214.79,208.95 216.80,208.86" fill="#128282" stroke="#128282" stroke-width="0.4" stroke-linejoin="round"/>
<polygon points="233.09,206.15 233.79,208.03 235.80,208.12 234.23,209.37 234.76,211.30 233.09,210.20 231.41,211.30 231.95,209.37 230.38,208.12 232.39,208.03" fill="#128282" stroke="#128282" stroke-width="0.4" stroke-linejoin="round"/>
<polygon points="248.68,208.64 249.38,210.52 251.39,210.61 249.82,211.86 250.35,213.79 248.68,212.69 247.00,213.79 247.54,211.86 245.97,210.61 247.97,210.52" fill="#128282" stroke="#128282" stroke-width="0.4" stroke-linejoin="round"/>
<polygon points="264.27,209.47 264.97,211.35 266.98,211.44 265.41,212.69 265.94,214.63 264.27,213.52 262.59,214.63 263.13,212.69 261.56,211.44 263.56,211.35" fill="#128282" stroke="#128282" stroke-width="0.4" stroke-linejoin="round"/>
<polygon points="279.86,211.13 280.56,213.01 282.57,213.10 280.99,214.35 281.53,216.29 279.86,215.18 278.18,216.29 278.72,214.35 277.15,213.10 279.15,213.01" fill="#128282" stroke="#128282" stroke-width="0.4" stroke-linejoin="round"/>
<polygon points="295.44,212.38 296.15,214.26 298.15,214.35 296.58,215.60 297.12,217.53 295.44,216.42 293.77,217.53 294.31,215.60 292.73,214.35 294.74,214.26" fill="#128282" stroke="#128282" stroke-width="0.4" stroke-linejoin="round"/>
<polygon points="311.03,212.38 311.74,214.26 313.74,214.35 312.17,215.60 312.71,217.53 311.03,216.42 309.36,217.53 309.89,215.60 308.32,214.35 310.33,214.26" fill="#128282" stroke="#128282" stroke-width="0.4" stroke-linejoin="round"/>
<polygon points="326.62,214.45 327.33,216.33 329.33,216.42 327.76,217.67 328.30,219.61 326.62,218.50 324.95,219.61 325.48,217.67 323.91,216.42 325.92,216.33" fill="#128282" stroke="#128282" stroke-width="0.4" stroke-linejoin="round"/>
<polygon points="342.21,213.62 342.91,215.50 344.92,215.59 343.35,216.84 343.89,218.78 342.21,217.67 340.54,218.78 341.07,216.84 339.50,215.59 341.51,215.50" fill="#128282" stroke="#128282" stroke-width="0.4" stroke-linejoin="round"/>
<polygon points="357.80,214.45 358.50,216.33 360.51,216.42 358.94,217.67 359.48,219.61 357.80,218.50 356.12,219.61 356.66,217.67 355.09,216.42 357.10,216.33" fill="#128282" stroke="#128282" stroke-width="0.4" stroke-linejoin="round"/>
<polyline points="217.50,237.08 233.09,237.08 248.68,237.50 264.27,238.33 279.86,237.08 295.44,239.16 311.03,238.33 326.62,239.99 342.21,239.57 357.80,239.99" fill="none" stroke="#ec2a2a" stroke-width="1.1" stroke-linejoin="round"/>
<path d="M217.50,237.08L217.50,239.68M217.50,237.08L215.25,235.78M217.50,237.08L219.75,235.78" fill="none" stroke="#ec2a2a" stroke-width="1.2"/>
<path d="M233.09,237.08L233.09,239.68M233.09,237.08L230.84,235.78M233.09,237.08L235.34,235.78" fill="none" stroke="#ec2a2a" stroke-width="1.2"/>
<path d="M248.68,237.50L248.68,240.10M248.68,237.50L246.43,236.20M248.68,237.50L250.93,236.20" fill="none" stroke="#ec2a2a" stroke-width="1.2"/>
<path d="M264.27,238.33L264.27,240.93M264.27,238.33L262.02,237.03M264.27,238.33L266.52,237.03" fill="none" stroke="#ec2a2a" stroke-width="1.2"/>
<path d="M279.86,237.08L279.86,239.68M279.86,237.08L277.60,235.78M279.86,237.08L282.11,235.78" fill="none" stroke="#ec2a2a" stroke-width="1.2"/>
<path d="M295.44,239.16L295.44,241.76M295.44,239.16L293.19,237.86M295.44,239.16L297.70,237.86" fill="none" stroke="#ec2a2a" stroke-width="1.2"/>
<path d="M311.03,238.33L311.03,240.93M311.03,238.33L308.78,237.03M311.03,238.33L313.28,237.03" fill="none" stroke="#ec2a2a" stroke-width="1.2"/>
<path d="M326.62,239.99L326.62,242.59M326.62,239.99L324.37,238.69M326.62,239.99L328.87,238.69" fill="none" stroke="#ec2a2a" stroke-width="1.2"/>
<path d="M342.21,239.57L342.21,242.17M342.21,239.57L339.96,238.27M342.21,239.57L344.46,238.27" fill="none" stroke="#ec2a2a" stroke-width="1.2"/>
<path d="M357.80,239.99L357.80,242.59M357.80,239.99L355.55,238.69M357.80,239.99L360.05,238.69" fill="none" stroke="#ec2a2a" stroke-width="1.2"/>
<polyline points="217.50,238.74 233.09,238.74 248.68,239.16 264.27,240.40 279.86,241.23 295.44,241.23 311.03,241.65 326.62,240.82 342.21,241.23 357.80,241.23" fill="none" stroke="#86cbec" stroke-width="1.1" stroke-linejoin="round"/>
<rect x="215.50" y="236.74" width="4.00" height="4.00" fill="none" stroke="#86cbec" stroke-width="1.15"/>
<rect x="231.09" y="236.74" width="4.00" height="4.00" fill="none" stroke="#86cbec" stroke-width="1.15"/>
<rect x="246.68" y="237.16" width="4.00" height="4.00" fill="none" stroke="#86cbec" stroke-width="1.15"/>
<rect x="262.27" y="238.40" width="4.00" height="4.00" fill="none" stroke="#86cbec" stroke-width="1.15"/>
<rect x="277.86" y="239.23" width="4.00" height="4.00" fill="none" stroke="#86cbec" stroke-width="1.15"/>
<rect x="293.44" y="239.23" width="4.00" height="4.00" fill="none" stroke="#86cbec" stroke-width="1.15"/>
<rect x="309.03" y="239.65" width="4.00" height="4.00" fill="none" stroke="#86cbec" stroke-width="1.15"/>
<rect x="324.62" y="238.82" width="4.00" height="4.00" fill="none" stroke="#86cbec" stroke-width="1.15"/>
<rect x="340.21" y="239.23" width="4.00" height="4.00" fill="none" stroke="#86cbec" stroke-width="1.15"/>
<rect x="355.80" y="239.23" width="4.00" height="4.00" fill="none" stroke="#86cbec" stroke-width="1.15"/>
<polyline points="217.50,254.52 233.09,253.69 248.68,254.94 264.27,254.94 279.86,254.94 295.44,254.52 311.03,255.35 326.62,256.18 342.21,256.60 357.80,255.35" fill="none" stroke="#f47a6c" stroke-width="1.1" stroke-linejoin="round"/>
<polygon points="217.50,256.87 214.90,252.27 220.10,252.27" fill="none" stroke="#f47a6c" stroke-width="1.05" stroke-linejoin="miter"/>
<polygon points="233.09,256.04 230.49,251.44 235.69,251.44" fill="none" stroke="#f47a6c" stroke-width="1.05" stroke-linejoin="miter"/>
<polygon points="248.68,257.29 246.08,252.69 251.28,252.69" fill="none" stroke="#f47a6c" stroke-width="1.05" stroke-linejoin="miter"/>
<polygon points="264.27,257.29 261.67,252.69 266.87,252.69" fill="none" stroke="#f47a6c" stroke-width="1.05" stroke-linejoin="miter"/>
<polygon points="279.86,257.29 277.26,252.69 282.46,252.69" fill="none" stroke="#f47a6c" stroke-width="1.05" stroke-linejoin="miter"/>
<polygon points="295.44,256.87 292.84,252.27 298.04,252.27" fill="none" stroke="#f47a6c" stroke-width="1.05" stroke-linejoin="miter"/>
<polygon points="311.03,257.70 308.43,253.10 313.63,253.10" fill="none" stroke="#f47a6c" stroke-width="1.05" stroke-linejoin="miter"/>
<polygon points="326.62,258.53 324.02,253.93 329.22,253.93" fill="none" stroke="#f47a6c" stroke-width="1.05" stroke-linejoin="miter"/>
<polygon points="342.21,258.95 339.61,254.35 344.81,254.35" fill="none" stroke="#f47a6c" stroke-width="1.05" stroke-linejoin="miter"/>
<polygon points="357.80,257.70 355.20,253.10 360.40,253.10" fill="none" stroke="#f47a6c" stroke-width="1.05" stroke-linejoin="miter"/>
</g>
<line x1="215.50" y1="161.10" x2="215.50" y2="269.10" stroke="#4d4d4d" stroke-width="0.8"/>
<line x1="215.10" y1="268.70" x2="360.30" y2="268.70" stroke="#4d4d4d" stroke-width="0.8"/>
<line x1="217.50" y1="268.70" x2="217.50" y2="270.90" stroke="#4d4d4d" stroke-width="0.7"/>
<text x="217.50" y="277.55" font-size="7.31" text-anchor="middle" textLength="12.65" lengthAdjust="spacingAndGlyphs" fill="#141414" stroke="#141414" stroke-width="0.24">100</text>
<line x1="233.09" y1="268.70" x2="233.09" y2="270.90" stroke="#4d4d4d" stroke-width="0.7"/>
<text x="233.09" y="277.55" font-size="7.31" text-anchor="middle" textLength="12.71" lengthAdjust="spacingAndGlyphs" fill="#141414" stroke="#141414" stroke-width="0.24">200</text>
<line x1="248.68" y1="268.70" x2="248.68" y2="270.90" stroke="#4d4d4d" stroke-width="0.7"/>
<text x="248.68" y="277.55" font-size="7.31" text-anchor="middle" textLength="12.59" lengthAdjust="spacingAndGlyphs" fill="#141414" stroke="#141414" stroke-width="0.24">300</text>
<line x1="264.27" y1="268.70" x2="264.27" y2="270.90" stroke="#4d4d4d" stroke-width="0.7"/>
<text x="264.27" y="277.55" font-size="7.31" text-anchor="middle" textLength="12.67" lengthAdjust="spacingAndGlyphs" fill="#141414" stroke="#141414" stroke-width="0.24">400</text>
<line x1="279.86" y1="268.70" x2="279.86" y2="270.90" stroke="#4d4d4d" stroke-width="0.7"/>
<text x="279.86" y="277.55" font-size="7.31" text-anchor="middle" textLength="12.60" lengthAdjust="spacingAndGlyphs" fill="#141414" stroke="#141414" stroke-width="0.24">500</text>
<line x1="295.44" y1="268.70" x2="295.44" y2="270.90" stroke="#4d4d4d" stroke-width="0.7"/>
<text x="295.44" y="277.55" font-size="7.31" text-anchor="middle" textLength="12.74" lengthAdjust="spacingAndGlyphs" fill="#141414" stroke="#141414" stroke-width="0.24">600</text>
<line x1="311.03" y1="268.70" x2="311.03" y2="270.90" stroke="#4d4d4d" stroke-width="0.7"/>
<text x="311.03" y="277.55" font-size="7.31" text-anchor="middle" textLength="12.65" lengthAdjust="spacingAndGlyphs" fill="#141414" stroke="#141414" stroke-width="0.24">700</text>
<line x1="326.62" y1="268.70" x2="326.62" y2="270.90" stroke="#4d4d4d" stroke-width="0.7"/>
<text x="326.62" y="277.55" font-size="7.31" text-anchor="middle" textLength="12.69" lengthAdjust="spacingAndGlyphs" fill="#141414" stroke="#141414" stroke-width="0.24">800</text>
<line x1="342.21" y1="268.70" x2="342.21" y2="270.90" stroke="#4d4d4d" stroke-width="0.7"/>
<text x="342.21" y="277.55" font-size="7.31" text-anchor="middle" textLength="12.76" lengthAdjust="spacingAndGlyphs" fill="#141414" stroke="#141414" stroke-width="0.24">900</text>
<line x1="357.80" y1="268.70" x2="357.80" y2="270.90" stroke="#4d4d4d" stroke-width="0.7"/>
<text x="357.80" y="277.55" font-size="7.31" text-anchor="middle" textLength="16.99" lengthAdjust="spacingAndGlyphs" fill="#141414" stroke="#141414" stroke-width="0.24">1000</text>
<line x1="213.30" y1="264.90" x2="215.50" y2="264.90" stroke="#4d4d4d" stroke-width="0.7"/>
<text x="212.30" y="268.00" font-size="8.17" text-anchor="end" textLength="16.58" lengthAdjust="spacingAndGlyphs" fill="#141414" stroke="#141414" stroke-width="0.24">0.30</text>
<line x1="213.30" y1="244.14" x2="215.50" y2="244.14" stroke="#4d4d4d" stroke-width="0.7"/>
<text x="212.30" y="247.24" font-size="8.17" text-anchor="end" textLength="16.44" lengthAdjust="spacingAndGlyphs" fill="#141414" stroke="#141414" stroke-width="0.24">0.35</text>
<line x1="213.30" y1="223.38" x2="215.50" y2="223.38" stroke="#4d4d4d" stroke-width="0.7"/>
<text x="212.30" y="226.48" font-size="8.17" text-anchor="end" textLength="16.58" lengthAdjust="spacingAndGlyphs" fill="#141414" stroke="#141414" stroke-width="0.24">0.40</text>
<line x1="213.30" y1="202.62" x2="215.50" y2="202.62" stroke="#4d4d4d" stroke-width="0.7"/>
<text x="212.30" y="205.72" font-size="8.17" text-anchor="end" textLength="16.44" lengthAdjust="spacingAndGlyphs" fill="#141414" stroke="#141414" stroke-width="0.24">0.45</text>
<line x1="213.30" y1="181.86" x2="215.50" y2="181.86" stroke="#4d4d4d" stroke-width="0.7"/>
<text x="212.30" y="184.96" font-size="8.17" text-anchor="end" textLength="16.58" lengthAdjust="spacingAndGlyphs" fill="#141414" stroke="#141414" stroke-width="0.24">0.50</text>
<line x1="213.30" y1="161.10" x2="215.50" y2="161.10" stroke="#4d4d4d" stroke-width="0.7"/>
<text x="212.30" y="164.20" font-size="8.17" text-anchor="end" textLength="16.44" lengthAdjust="spacingAndGlyphs" fill="#141414" stroke="#141414" stroke-width="0.24">0.55</text>
<text x="287.90" y="157.40" font-size="9.98" text-anchor="middle" textLength="14.16" lengthAdjust="spacingAndGlyphs" fill="#141414" stroke="#141414" stroke-width="0.12">(e)</text>
<text x="287.90" y="287.30" font-size="9.54" text-anchor="middle" textLength="122.03" lengthAdjust="spacingAndGlyphs" fill="#141414" stroke="#141414" stroke-width="0.24">Number of retrieved points</text>
<text x="191.60" y="214.90" font-size="9.54" text-anchor="middle" textLength="40.31" lengthAdjust="spacingAndGlyphs" transform="rotate(-90 191.60 214.90)" fill="#141414" stroke="#141414" stroke-width="0.24">Precision</text>
<rect x="363.1" y="158.4" width="60.299999999999955" height="80.9" rx="1.2" fill="#ffffff" fill-opacity="0.8" stroke="#e4e4e4" stroke-width="0.8"/>
<line x1="366.0" y1="163.30" x2="378.4" y2="163.30" stroke="#111111" stroke-width="1.1"/>
<g transform="translate(372.2 163.30) scale(1.1) translate(-372.2 -163.30)"><polygon points="372.20,160.95 369.55,165.55 374.85,165.55" fill="none" stroke="#111111" stroke-width="1.15" stroke-linejoin="miter"/></g>
<text x="383.00" y="165.50" font-size="6.36" text-anchor="start" textLength="38.86" lengthAdjust="spacingAndGlyphs" fill="#141414" stroke="#141414" stroke-width="0.15">ours_student</text>
<line x1="366.0" y1="172.02" x2="378.4" y2="172.02" stroke="#b52a2a" stroke-width="1.1"/>
<g transform="translate(372.2 172.02) scale(1.1) translate(-372.2 -172.02)"><circle cx="372.20" cy="172.02" r="2.12" fill="none" stroke="#b52a2a" stroke-width="1.15"/></g>
<text x="383.00" y="174.22" font-size="6.36" text-anchor="start" textLength="39.11" lengthAdjust="spacingAndGlyphs" fill="#141414" stroke="#141414" stroke-width="0.15">ours_teacher</text>
<line x1="366.0" y1="180.74" x2="378.4" y2="180.74" stroke="#52c4dd" stroke-width="1.1"/>
<g transform="translate(372.2 180.74) scale(1.1) translate(-372.2 -180.74)"><polygon points="372.20,177.44 374.05,180.74 372.20,184.04 370.35,180.74" fill="none" stroke="#52c4dd" stroke-width="1.15"/></g>
<text x="383.00" y="182.94" font-size="6.36" text-anchor="start" textLength="13.68" lengthAdjust="spacingAndGlyphs" fill="#141414" stroke="#141414" stroke-width="0.15">DOH</text>
<line x1="366.0" y1="189.46" x2="378.4" y2="189.46" stroke="#3a4fbd" stroke-width="1.1"/>
<g transform="translate(372.2 189.46) scale(1.1) translate(-372.2 -189.46)"><circle cx="372.20" cy="189.46" r="2.12" fill="none" stroke="#3a4fbd" stroke-width="1.15"/></g>
<text x="383.00" y="191.66" font-size="6.36" text-anchor="start" textLength="23.81" lengthAdjust="spacingAndGlyphs" fill="#141414" stroke="#141414" stroke-width="0.15">DeepBit</text>
<line x1="366.0" y1="198.18" x2="378.4" y2="198.18" stroke="#1f8a3a" stroke-width="1.1"/>
<g transform="translate(372.2 198.18) scale(1.1) translate(-372.2 -198.18)"><polygon points="374.23,199.02 373.04,200.21 371.36,200.21 370.17,199.02 370.17,197.34 371.36,196.15 373.04,196.15 374.23,197.34" fill="none" stroke="#1f8a3a" stroke-width="1.15"/></g>
<text x="383.00" y="200.38" font-size="6.36" text-anchor="start" textLength="12.75" lengthAdjust="spacingAndGlyphs" fill="#141414" stroke="#141414" stroke-width="0.15">DSH</text>
<line x1="366.0" y1="206.90" x2="378.4" y2="206.90" stroke="#128282" stroke-width="1.1"/>
<g transform="translate(372.2 206.90) scale(1.1) translate(-372.2 -206.90)"><polygon points="372.20,204.20 372.90,206.08 374.91,206.17 373.34,207.42 373.88,209.36 372.20,208.25 370.52,209.36 371.06,207.42 369.49,206.17 371.50,206.08" fill="#128282" stroke="#128282" stroke-width="0.4" stroke-linejoin="round"/></g>
<text x="383.00" y="209.10" font-size="6.36" text-anchor="start" textLength="10.08" lengthAdjust="spacingAndGlyphs" fill="#141414" stroke="#141414" stroke-width="0.15">ITQ</text>
<line x1="366.0" y1="215.62" x2="378.4" y2="215.62" stroke="#ec2a2a" stroke-width="1.1"/>
<g transform="translate(372.2 215.62) scale(1.1) translate(-372.2 -215.62)"><path d="M372.20,215.62L372.20,218.22M372.20,215.62L369.95,214.32M372.20,215.62L374.45,214.32" fill="none" stroke="#ec2a2a" stroke-width="1.2"/></g>
<text x="383.00" y="217.82" font-size="6.36" text-anchor="start" textLength="11.92" lengthAdjust="spacingAndGlyphs" fill="#141414" stroke="#141414" stroke-width="0.15">SpH</text>
<line x1="366.0" y1="224.34" x2="378.4" y2="224.34" stroke="#86cbec" stroke-width="1.1"/>
<g transform="translate(372.2 224.34) scale(1.1) translate(-372.2 -224.34)"><rect x="370.20" y="222.34" width="4.00" height="4.00" fill="none" stroke="#86cbec" stroke-width="1.15"/></g>
<text x="383.00" y="226.54" font-size="6.36" text-anchor="start" textLength="8.07" lengthAdjust="spacingAndGlyphs" fill="#141414" stroke="#141414" stroke-width="0.15">SH</text>
<line x1="366.0" y1="233.06" x2="378.4" y2="233.06" stroke="#f47a6c" stroke-width="1.1"/>
<g transform="translate(372.2 233.06) scale(1.1) translate(-372.2 -233.06)"><polygon points="372.20,235.41 369.60,230.81 374.80,230.81" fill="none" stroke="#f47a6c" stroke-width="1.05" stroke-linejoin="miter"/></g>
<text x="383.00" y="235.26" font-size="6.36" text-anchor="start" textLength="11.45" lengthAdjust="spacingAndGlyphs" fill="#141414" stroke="#141414" stroke-width="0.15">LSH</text>
</svg>
</body></html>
